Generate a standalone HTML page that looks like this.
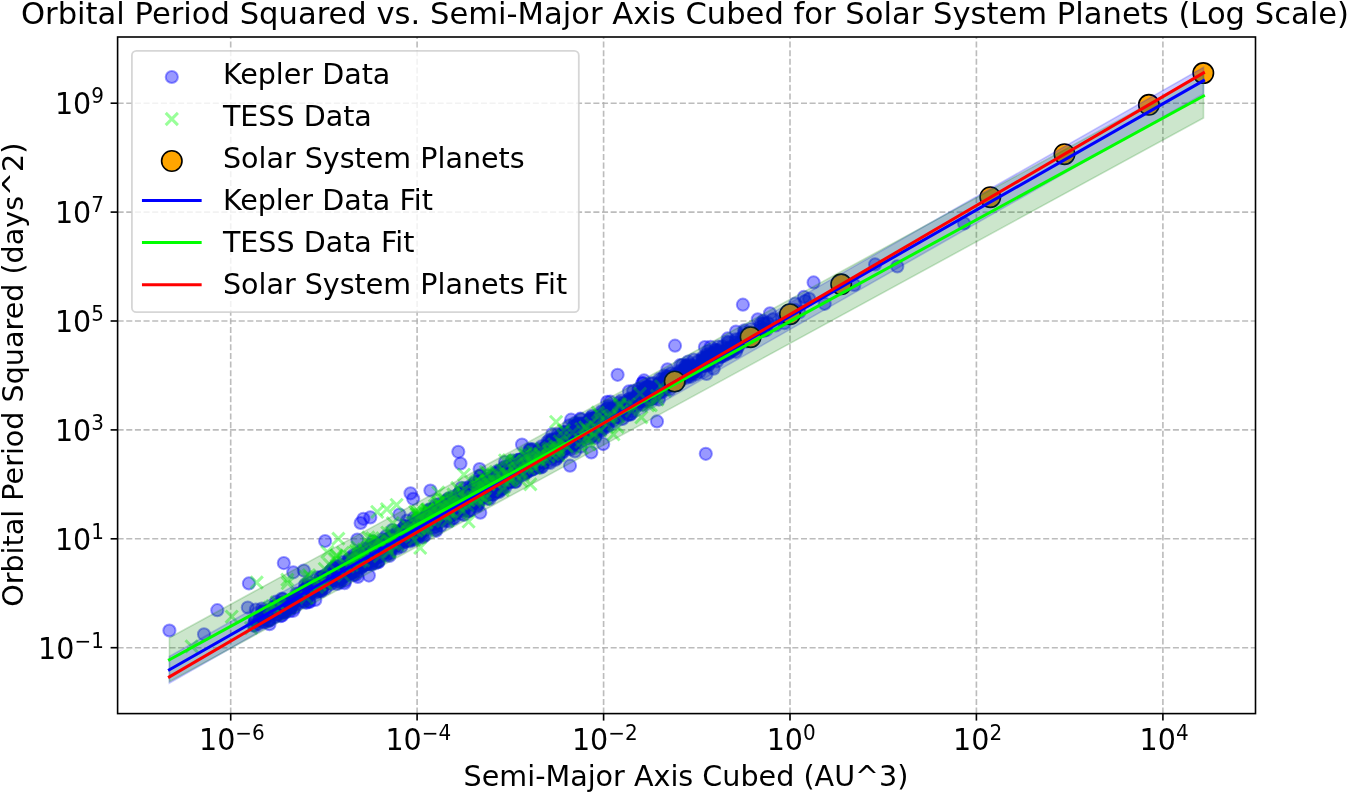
<!DOCTYPE html>
<html lang="en"><head><meta charset="utf-8">
<title>Orbital Period Squared vs. Semi-Major Axis Cubed</title>
<style>
html,body{margin:0;padding:0;background:#fff;}
body{width:1347px;height:794px;overflow:hidden;}
svg{display:block;}
text{font-family:"DejaVu Sans", "Liberation Sans", sans-serif;fill:#000;}
.g{stroke:#b0b0b0;stroke-opacity:0.85;stroke-width:1.63;stroke-dasharray:6.04 2.61;fill:none;}
.tk{stroke:#000;stroke-width:1.63;fill:none;}
</style></head><body>
<svg width="1347" height="794" viewBox="0 0 1347 794">
<rect x="0" y="0" width="1347" height="794" fill="#fff"/>
<defs>
<clipPath id="axclip"><rect x="117.6" y="37.0" width="1137.9" height="676.6"/></clipPath>
<g id="k"><circle r="6.1" fill="#0000ff" fill-opacity="0.4" stroke="#0000ff" stroke-opacity="0.4" stroke-width="2.0"/></g>
<path id="t" d="M-6.1,-6.1L6.1,6.1M-6.1,6.1L6.1,-6.1" stroke="#00ff00" stroke-opacity="0.4" stroke-width="3.0" fill="none"/>
<circle id="p" r="10.2" fill="#ffa500" stroke="#000" stroke-width="1.6"/>
</defs>
<g class="g">
<line x1="230.7" y1="713.6" x2="230.7" y2="37.0"/>
<line x1="417.1" y1="713.6" x2="417.1" y2="37.0"/>
<line x1="603.6" y1="713.6" x2="603.6" y2="37.0"/>
<line x1="790.0" y1="713.6" x2="790.0" y2="37.0"/>
<line x1="976.4" y1="713.6" x2="976.4" y2="37.0"/>
<line x1="1162.9" y1="713.6" x2="1162.9" y2="37.0"/>
<line x1="117.6" y1="647.7" x2="1255.5" y2="647.7"/>
<line x1="117.6" y1="538.8" x2="1255.5" y2="538.8"/>
<line x1="117.6" y1="429.9" x2="1255.5" y2="429.9"/>
<line x1="117.6" y1="321.0" x2="1255.5" y2="321.0"/>
<line x1="117.6" y1="212.1" x2="1255.5" y2="212.1"/>
<line x1="117.6" y1="103.2" x2="1255.5" y2="103.2"/>
</g>
<g clip-path="url(#axclip)">
<g>
<use href="#k" x="455.8" y="505.8"/>
<use href="#k" x="514.1" y="466.2"/>
<use href="#k" x="418.9" y="529.7"/>
<use href="#k" x="407.5" y="532.7"/>
<use href="#k" x="557.0" y="450.7"/>
<use href="#k" x="404.2" y="534.6"/>
<use href="#k" x="368.3" y="555.4"/>
<use href="#k" x="518.6" y="467.6"/>
<use href="#k" x="587.5" y="427.7"/>
<use href="#k" x="404.9" y="535.4"/>
<use href="#k" x="455.5" y="501.9"/>
<use href="#k" x="456.3" y="506.1"/>
<use href="#k" x="309.5" y="602.1"/>
<use href="#k" x="658.3" y="386.9"/>
<use href="#k" x="742.9" y="340.3"/>
<use href="#k" x="605.8" y="410.2"/>
<use href="#k" x="492.8" y="486.2"/>
<use href="#k" x="264.3" y="621.9"/>
<use href="#k" x="304.3" y="590.1"/>
<use href="#k" x="485.3" y="495.8"/>
<use href="#k" x="415.8" y="519.6"/>
<use href="#k" x="499.4" y="475.3"/>
<use href="#k" x="526.1" y="460.7"/>
<use href="#k" x="516.9" y="461.7"/>
<use href="#k" x="530.1" y="469.4"/>
<use href="#k" x="436.8" y="519.7"/>
<use href="#k" x="487.8" y="498.6"/>
<use href="#k" x="447.2" y="512.8"/>
<use href="#k" x="537.2" y="453.8"/>
<use href="#k" x="453.6" y="505.9"/>
<use href="#k" x="502.7" y="477.1"/>
<use href="#k" x="424.8" y="535.4"/>
<use href="#k" x="461.2" y="504.7"/>
<use href="#k" x="278.0" y="603.9"/>
<use href="#k" x="598.0" y="423.1"/>
<use href="#k" x="338.7" y="580.9"/>
<use href="#k" x="530.8" y="457.1"/>
<use href="#k" x="610.3" y="401.7"/>
<use href="#k" x="605.5" y="421.6"/>
<use href="#k" x="657.8" y="386.1"/>
<use href="#k" x="330.9" y="581.4"/>
<use href="#k" x="503.3" y="481.9"/>
<use href="#k" x="453.0" y="509.5"/>
<use href="#k" x="551.2" y="441.7"/>
<use href="#k" x="437.8" y="516.4"/>
<use href="#k" x="470.2" y="493.0"/>
<use href="#k" x="471.8" y="487.3"/>
<use href="#k" x="341.3" y="577.8"/>
<use href="#k" x="547.3" y="442.1"/>
<use href="#k" x="583.1" y="437.5"/>
<use href="#k" x="436.5" y="517.2"/>
<use href="#k" x="705.9" y="365.7"/>
<use href="#k" x="487.6" y="483.5"/>
<use href="#k" x="514.2" y="467.7"/>
<use href="#k" x="344.3" y="571.2"/>
<use href="#k" x="588.7" y="425.8"/>
<use href="#k" x="374.8" y="558.4"/>
<use href="#k" x="522.7" y="468.9"/>
<use href="#k" x="620.8" y="410.6"/>
<use href="#k" x="529.1" y="466.7"/>
<use href="#k" x="406.4" y="532.9"/>
<use href="#k" x="607.9" y="413.6"/>
<use href="#k" x="309.3" y="592.3"/>
<use href="#k" x="384.9" y="542.9"/>
<use href="#k" x="518.5" y="460.1"/>
<use href="#k" x="454.3" y="504.8"/>
<use href="#k" x="438.7" y="509.6"/>
<use href="#k" x="600.7" y="431.4"/>
<use href="#k" x="511.9" y="469.8"/>
<use href="#k" x="362.7" y="556.5"/>
<use href="#k" x="498.3" y="479.8"/>
<use href="#k" x="338.8" y="574.1"/>
<use href="#k" x="497.9" y="472.4"/>
<use href="#k" x="684.2" y="370.0"/>
<use href="#k" x="325.8" y="582.8"/>
<use href="#k" x="458.4" y="500.8"/>
<use href="#k" x="425.5" y="520.7"/>
<use href="#k" x="513.9" y="463.1"/>
<use href="#k" x="671.0" y="379.2"/>
<use href="#k" x="556.6" y="448.7"/>
<use href="#k" x="477.0" y="491.1"/>
<use href="#k" x="487.6" y="489.1"/>
<use href="#k" x="504.4" y="472.5"/>
<use href="#k" x="452.9" y="507.5"/>
<use href="#k" x="574.4" y="441.1"/>
<use href="#k" x="497.0" y="475.5"/>
<use href="#k" x="456.0" y="506.8"/>
<use href="#k" x="522.8" y="468.0"/>
<use href="#k" x="510.5" y="481.1"/>
<use href="#k" x="269.5" y="624.2"/>
<use href="#k" x="421.8" y="535.4"/>
<use href="#k" x="588.1" y="432.5"/>
<use href="#k" x="309.8" y="588.6"/>
<use href="#k" x="351.6" y="570.2"/>
<use href="#k" x="481.5" y="486.7"/>
<use href="#k" x="319.8" y="583.8"/>
<use href="#k" x="483.6" y="485.3"/>
<use href="#k" x="448.0" y="510.7"/>
<use href="#k" x="349.1" y="559.6"/>
<use href="#k" x="341.8" y="580.0"/>
<use href="#k" x="458.4" y="503.0"/>
<use href="#k" x="435.4" y="517.7"/>
<use href="#k" x="390.1" y="552.7"/>
<use href="#k" x="574.7" y="441.7"/>
<use href="#k" x="522.0" y="467.4"/>
<use href="#k" x="519.5" y="467.0"/>
<use href="#k" x="595.2" y="437.7"/>
<use href="#k" x="441.0" y="517.7"/>
<use href="#k" x="581.2" y="436.5"/>
<use href="#k" x="545.6" y="454.1"/>
<use href="#k" x="503.1" y="487.9"/>
<use href="#k" x="550.3" y="457.0"/>
<use href="#k" x="730.5" y="346.5"/>
<use href="#k" x="588.2" y="423.4"/>
<use href="#k" x="619.1" y="406.7"/>
<use href="#k" x="570.7" y="446.9"/>
<use href="#k" x="481.5" y="489.4"/>
<use href="#k" x="538.3" y="467.3"/>
<use href="#k" x="486.7" y="479.0"/>
<use href="#k" x="534.9" y="462.2"/>
<use href="#k" x="487.1" y="493.0"/>
<use href="#k" x="406.6" y="527.4"/>
<use href="#k" x="315.8" y="584.6"/>
<use href="#k" x="638.5" y="388.9"/>
<use href="#k" x="492.1" y="485.0"/>
<use href="#k" x="686.2" y="366.1"/>
<use href="#k" x="391.6" y="547.1"/>
<use href="#k" x="422.2" y="520.3"/>
<use href="#k" x="536.7" y="460.8"/>
<use href="#k" x="420.8" y="532.4"/>
<use href="#k" x="558.2" y="454.3"/>
<use href="#k" x="581.3" y="430.9"/>
<use href="#k" x="322.2" y="580.7"/>
<use href="#k" x="518.1" y="460.1"/>
<use href="#k" x="287.4" y="602.8"/>
<use href="#k" x="739.6" y="343.5"/>
<use href="#k" x="612.2" y="408.6"/>
<use href="#k" x="518.3" y="477.1"/>
<use href="#k" x="584.0" y="431.7"/>
<use href="#k" x="501.9" y="486.3"/>
<use href="#k" x="469.9" y="499.8"/>
<use href="#k" x="493.8" y="478.3"/>
<use href="#k" x="450.5" y="508.2"/>
<use href="#k" x="283.0" y="602.7"/>
<use href="#k" x="492.4" y="478.3"/>
<use href="#k" x="579.1" y="439.7"/>
<use href="#k" x="437.2" y="520.5"/>
<use href="#k" x="498.5" y="486.4"/>
<use href="#k" x="421.8" y="520.6"/>
<use href="#k" x="357.6" y="556.8"/>
<use href="#k" x="525.4" y="456.6"/>
<use href="#k" x="605.6" y="417.8"/>
<use href="#k" x="306.0" y="591.2"/>
<use href="#k" x="646.0" y="393.5"/>
<use href="#k" x="528.6" y="460.6"/>
<use href="#k" x="311.8" y="593.4"/>
<use href="#k" x="446.5" y="500.4"/>
<use href="#k" x="459.7" y="508.2"/>
<use href="#k" x="372.0" y="557.5"/>
<use href="#k" x="565.5" y="444.6"/>
<use href="#k" x="352.0" y="560.1"/>
<use href="#k" x="490.2" y="494.0"/>
<use href="#k" x="470.5" y="493.2"/>
<use href="#k" x="537.7" y="457.5"/>
<use href="#k" x="360.2" y="551.6"/>
<use href="#k" x="394.5" y="544.5"/>
<use href="#k" x="400.1" y="535.0"/>
<use href="#k" x="553.7" y="449.0"/>
<use href="#k" x="367.3" y="554.3"/>
<use href="#k" x="404.4" y="540.0"/>
<use href="#k" x="597.9" y="430.9"/>
<use href="#k" x="346.3" y="575.5"/>
<use href="#k" x="368.0" y="558.0"/>
<use href="#k" x="411.3" y="530.9"/>
<use href="#k" x="475.2" y="494.1"/>
<use href="#k" x="386.7" y="549.8"/>
<use href="#k" x="458.0" y="497.3"/>
<use href="#k" x="463.1" y="504.9"/>
<use href="#k" x="333.2" y="580.7"/>
<use href="#k" x="401.4" y="540.2"/>
<use href="#k" x="512.4" y="481.6"/>
<use href="#k" x="521.7" y="462.3"/>
<use href="#k" x="292.6" y="601.1"/>
<use href="#k" x="411.6" y="538.4"/>
<use href="#k" x="536.2" y="463.8"/>
<use href="#k" x="470.8" y="488.9"/>
<use href="#k" x="382.5" y="539.3"/>
<use href="#k" x="283.4" y="610.0"/>
<use href="#k" x="454.3" y="505.8"/>
<use href="#k" x="492.0" y="489.1"/>
<use href="#k" x="555.1" y="444.1"/>
<use href="#k" x="404.5" y="542.0"/>
<use href="#k" x="572.2" y="433.7"/>
<use href="#k" x="350.4" y="569.7"/>
<use href="#k" x="529.0" y="460.8"/>
<use href="#k" x="693.7" y="369.6"/>
<use href="#k" x="454.0" y="518.2"/>
<use href="#k" x="371.7" y="556.0"/>
<use href="#k" x="389.2" y="553.8"/>
<use href="#k" x="426.9" y="523.3"/>
<use href="#k" x="493.8" y="476.9"/>
<use href="#k" x="575.0" y="451.4"/>
<use href="#k" x="514.1" y="467.4"/>
<use href="#k" x="347.3" y="567.0"/>
<use href="#k" x="472.7" y="495.3"/>
<use href="#k" x="280.8" y="616.1"/>
<use href="#k" x="499.3" y="470.7"/>
<use href="#k" x="682.0" y="372.6"/>
<use href="#k" x="536.4" y="459.8"/>
<use href="#k" x="567.3" y="443.5"/>
<use href="#k" x="499.4" y="471.7"/>
<use href="#k" x="495.0" y="479.1"/>
<use href="#k" x="448.4" y="512.9"/>
<use href="#k" x="480.0" y="493.9"/>
<use href="#k" x="433.2" y="516.0"/>
<use href="#k" x="336.1" y="566.2"/>
<use href="#k" x="311.0" y="589.8"/>
<use href="#k" x="649.0" y="387.6"/>
<use href="#k" x="457.9" y="501.0"/>
<use href="#k" x="515.0" y="482.1"/>
<use href="#k" x="623.5" y="405.6"/>
<use href="#k" x="415.8" y="530.1"/>
<use href="#k" x="400.6" y="534.4"/>
<use href="#k" x="339.8" y="575.2"/>
<use href="#k" x="356.5" y="571.7"/>
<use href="#k" x="419.1" y="524.5"/>
<use href="#k" x="488.3" y="486.0"/>
<use href="#k" x="531.2" y="449.4"/>
<use href="#k" x="442.4" y="512.9"/>
<use href="#k" x="306.5" y="589.1"/>
<use href="#k" x="511.2" y="475.9"/>
<use href="#k" x="308.2" y="588.4"/>
<use href="#k" x="344.1" y="572.9"/>
<use href="#k" x="321.6" y="583.6"/>
<use href="#k" x="580.8" y="430.4"/>
<use href="#k" x="558.9" y="453.0"/>
<use href="#k" x="362.0" y="556.5"/>
<use href="#k" x="387.5" y="543.2"/>
<use href="#k" x="475.0" y="485.8"/>
<use href="#k" x="494.4" y="478.2"/>
<use href="#k" x="580.6" y="446.7"/>
<use href="#k" x="468.9" y="510.8"/>
<use href="#k" x="599.3" y="425.1"/>
<use href="#k" x="267.8" y="615.9"/>
<use href="#k" x="395.9" y="545.7"/>
<use href="#k" x="591.6" y="427.7"/>
<use href="#k" x="422.9" y="537.3"/>
<use href="#k" x="495.2" y="486.4"/>
<use href="#k" x="422.0" y="527.4"/>
<use href="#k" x="384.8" y="547.7"/>
<use href="#k" x="454.4" y="503.0"/>
<use href="#k" x="418.3" y="526.7"/>
<use href="#k" x="450.5" y="507.0"/>
<use href="#k" x="427.9" y="520.0"/>
<use href="#k" x="485.2" y="485.3"/>
<use href="#k" x="514.7" y="467.3"/>
<use href="#k" x="584.3" y="425.5"/>
<use href="#k" x="332.9" y="567.9"/>
<use href="#k" x="436.8" y="514.1"/>
<use href="#k" x="504.1" y="474.5"/>
<use href="#k" x="370.7" y="560.2"/>
<use href="#k" x="424.4" y="528.7"/>
<use href="#k" x="479.2" y="498.7"/>
<use href="#k" x="437.1" y="518.7"/>
<use href="#k" x="371.2" y="553.7"/>
<use href="#k" x="441.2" y="514.8"/>
<use href="#k" x="521.5" y="462.0"/>
<use href="#k" x="528.4" y="453.9"/>
<use href="#k" x="410.9" y="532.1"/>
<use href="#k" x="560.7" y="447.1"/>
<use href="#k" x="479.0" y="481.7"/>
<use href="#k" x="637.0" y="402.8"/>
<use href="#k" x="579.0" y="441.9"/>
<use href="#k" x="482.3" y="484.7"/>
<use href="#k" x="519.2" y="464.1"/>
<use href="#k" x="528.6" y="459.1"/>
<use href="#k" x="510.1" y="469.9"/>
<use href="#k" x="561.6" y="440.0"/>
<use href="#k" x="666.3" y="384.4"/>
<use href="#k" x="329.8" y="580.9"/>
<use href="#k" x="352.8" y="558.5"/>
<use href="#k" x="348.0" y="568.4"/>
<use href="#k" x="492.8" y="485.0"/>
<use href="#k" x="503.8" y="480.3"/>
<use href="#k" x="608.6" y="413.6"/>
<use href="#k" x="569.2" y="440.0"/>
<use href="#k" x="284.4" y="610.2"/>
<use href="#k" x="346.3" y="573.3"/>
<use href="#k" x="461.0" y="507.5"/>
<use href="#k" x="646.3" y="400.4"/>
<use href="#k" x="284.0" y="606.1"/>
<use href="#k" x="425.4" y="522.4"/>
<use href="#k" x="458.1" y="509.2"/>
<use href="#k" x="491.9" y="478.3"/>
<use href="#k" x="670.5" y="379.1"/>
<use href="#k" x="418.5" y="521.5"/>
<use href="#k" x="433.0" y="514.4"/>
<use href="#k" x="652.0" y="399.1"/>
<use href="#k" x="542.9" y="453.1"/>
<use href="#k" x="320.7" y="577.8"/>
<use href="#k" x="547.4" y="451.7"/>
<use href="#k" x="577.2" y="429.4"/>
<use href="#k" x="662.5" y="388.4"/>
<use href="#k" x="453.9" y="511.9"/>
<use href="#k" x="486.4" y="484.5"/>
<use href="#k" x="357.5" y="564.2"/>
<use href="#k" x="384.5" y="540.9"/>
<use href="#k" x="564.9" y="448.1"/>
<use href="#k" x="417.3" y="525.7"/>
<use href="#k" x="640.9" y="399.7"/>
<use href="#k" x="635.7" y="400.7"/>
<use href="#k" x="540.8" y="467.6"/>
<use href="#k" x="426.7" y="526.9"/>
<use href="#k" x="549.4" y="439.8"/>
<use href="#k" x="687.0" y="367.1"/>
<use href="#k" x="552.9" y="448.4"/>
<use href="#k" x="397.6" y="537.9"/>
<use href="#k" x="581.4" y="423.6"/>
<use href="#k" x="480.5" y="475.5"/>
<use href="#k" x="392.3" y="530.1"/>
<use href="#k" x="409.2" y="533.5"/>
<use href="#k" x="440.8" y="510.6"/>
<use href="#k" x="403.3" y="538.6"/>
<use href="#k" x="505.8" y="483.1"/>
<use href="#k" x="596.1" y="420.4"/>
<use href="#k" x="578.2" y="439.6"/>
<use href="#k" x="454.2" y="503.3"/>
<use href="#k" x="382.4" y="544.6"/>
<use href="#k" x="549.8" y="447.0"/>
<use href="#k" x="489.6" y="480.4"/>
<use href="#k" x="356.0" y="574.8"/>
<use href="#k" x="671.0" y="385.7"/>
<use href="#k" x="462.5" y="495.8"/>
<use href="#k" x="638.7" y="391.1"/>
<use href="#k" x="464.2" y="501.3"/>
<use href="#k" x="278.8" y="607.9"/>
<use href="#k" x="602.3" y="425.1"/>
<use href="#k" x="607.5" y="408.7"/>
<use href="#k" x="455.6" y="504.4"/>
<use href="#k" x="349.9" y="573.8"/>
<use href="#k" x="471.8" y="498.2"/>
<use href="#k" x="306.6" y="587.8"/>
<use href="#k" x="655.6" y="389.6"/>
<use href="#k" x="442.2" y="513.9"/>
<use href="#k" x="366.5" y="548.3"/>
<use href="#k" x="323.0" y="582.5"/>
<use href="#k" x="554.6" y="450.4"/>
<use href="#k" x="296.5" y="593.5"/>
<use href="#k" x="372.0" y="563.5"/>
<use href="#k" x="345.6" y="567.0"/>
<use href="#k" x="523.8" y="474.7"/>
<use href="#k" x="548.3" y="456.0"/>
<use href="#k" x="645.0" y="387.5"/>
<use href="#k" x="540.9" y="453.8"/>
<use href="#k" x="576.7" y="430.6"/>
<use href="#k" x="595.4" y="435.8"/>
<use href="#k" x="764.4" y="324.4"/>
<use href="#k" x="418.3" y="530.4"/>
<use href="#k" x="631.7" y="398.8"/>
<use href="#k" x="635.9" y="396.3"/>
<use href="#k" x="655.2" y="389.0"/>
<use href="#k" x="580.7" y="419.4"/>
<use href="#k" x="580.4" y="418.7"/>
<use href="#k" x="621.2" y="400.6"/>
<use href="#k" x="426.9" y="527.2"/>
<use href="#k" x="476.4" y="493.1"/>
<use href="#k" x="487.6" y="484.7"/>
<use href="#k" x="551.8" y="452.7"/>
<use href="#k" x="525.8" y="467.0"/>
<use href="#k" x="408.4" y="528.4"/>
<use href="#k" x="650.9" y="393.0"/>
<use href="#k" x="518.8" y="471.3"/>
<use href="#k" x="378.4" y="561.7"/>
<use href="#k" x="506.0" y="473.9"/>
<use href="#k" x="482.1" y="487.3"/>
<use href="#k" x="510.3" y="471.1"/>
<use href="#k" x="360.4" y="559.5"/>
<use href="#k" x="366.9" y="548.9"/>
<use href="#k" x="375.5" y="555.2"/>
<use href="#k" x="428.4" y="524.8"/>
<use href="#k" x="496.8" y="471.4"/>
<use href="#k" x="461.2" y="508.1"/>
<use href="#k" x="322.3" y="579.9"/>
<use href="#k" x="341.4" y="569.9"/>
<use href="#k" x="374.2" y="548.5"/>
<use href="#k" x="283.3" y="610.8"/>
<use href="#k" x="326.3" y="580.5"/>
<use href="#k" x="430.2" y="517.8"/>
<use href="#k" x="581.9" y="430.3"/>
<use href="#k" x="541.6" y="446.3"/>
<use href="#k" x="624.3" y="406.0"/>
<use href="#k" x="737.7" y="347.8"/>
<use href="#k" x="474.8" y="492.3"/>
<use href="#k" x="280.3" y="610.0"/>
<use href="#k" x="474.3" y="501.8"/>
<use href="#k" x="533.9" y="464.7"/>
<use href="#k" x="534.8" y="458.2"/>
<use href="#k" x="522.4" y="461.3"/>
<use href="#k" x="557.1" y="440.7"/>
<use href="#k" x="420.0" y="530.7"/>
<use href="#k" x="513.1" y="471.4"/>
<use href="#k" x="460.9" y="501.2"/>
<use href="#k" x="466.9" y="501.5"/>
<use href="#k" x="412.7" y="528.6"/>
<use href="#k" x="459.4" y="493.2"/>
<use href="#k" x="410.2" y="540.1"/>
<use href="#k" x="366.2" y="558.8"/>
<use href="#k" x="461.1" y="502.9"/>
<use href="#k" x="435.8" y="529.5"/>
<use href="#k" x="438.3" y="508.5"/>
<use href="#k" x="464.8" y="497.5"/>
<use href="#k" x="502.2" y="476.0"/>
<use href="#k" x="476.5" y="498.2"/>
<use href="#k" x="426.0" y="518.2"/>
<use href="#k" x="367.6" y="561.4"/>
<use href="#k" x="474.6" y="482.3"/>
<use href="#k" x="522.8" y="461.6"/>
<use href="#k" x="518.4" y="469.4"/>
<use href="#k" x="612.8" y="421.2"/>
<use href="#k" x="636.8" y="405.9"/>
<use href="#k" x="645.2" y="395.8"/>
<use href="#k" x="472.8" y="504.3"/>
<use href="#k" x="480.8" y="481.3"/>
<use href="#k" x="491.0" y="485.2"/>
<use href="#k" x="284.4" y="612.5"/>
<use href="#k" x="382.4" y="549.6"/>
<use href="#k" x="260.5" y="620.5"/>
<use href="#k" x="485.7" y="490.9"/>
<use href="#k" x="575.3" y="432.2"/>
<use href="#k" x="376.9" y="553.5"/>
<use href="#k" x="478.0" y="505.0"/>
<use href="#k" x="498.5" y="475.6"/>
<use href="#k" x="429.6" y="509.3"/>
<use href="#k" x="630.0" y="414.7"/>
<use href="#k" x="588.5" y="430.9"/>
<use href="#k" x="399.3" y="538.0"/>
<use href="#k" x="560.3" y="451.7"/>
<use href="#k" x="628.9" y="401.4"/>
<use href="#k" x="278.0" y="606.5"/>
<use href="#k" x="400.3" y="541.6"/>
<use href="#k" x="516.3" y="470.0"/>
<use href="#k" x="447.8" y="505.3"/>
<use href="#k" x="448.9" y="508.3"/>
<use href="#k" x="570.8" y="434.8"/>
<use href="#k" x="431.9" y="525.0"/>
<use href="#k" x="658.3" y="388.4"/>
<use href="#k" x="361.4" y="561.1"/>
<use href="#k" x="622.4" y="419.0"/>
<use href="#k" x="386.6" y="539.4"/>
<use href="#k" x="527.1" y="457.0"/>
<use href="#k" x="609.8" y="414.4"/>
<use href="#k" x="467.0" y="493.1"/>
<use href="#k" x="263.1" y="614.6"/>
<use href="#k" x="476.5" y="491.8"/>
<use href="#k" x="541.0" y="460.7"/>
<use href="#k" x="311.6" y="588.5"/>
<use href="#k" x="563.3" y="447.2"/>
<use href="#k" x="558.3" y="455.8"/>
<use href="#k" x="441.0" y="516.1"/>
<use href="#k" x="452.2" y="518.8"/>
<use href="#k" x="355.4" y="565.6"/>
<use href="#k" x="414.1" y="539.7"/>
<use href="#k" x="461.6" y="494.8"/>
<use href="#k" x="339.8" y="582.4"/>
<use href="#k" x="387.3" y="543.2"/>
<use href="#k" x="488.7" y="486.6"/>
<use href="#k" x="441.4" y="509.5"/>
<use href="#k" x="536.4" y="461.9"/>
<use href="#k" x="253.4" y="625.1"/>
<use href="#k" x="410.4" y="532.6"/>
<use href="#k" x="551.6" y="440.6"/>
<use href="#k" x="399.9" y="534.1"/>
<use href="#k" x="533.8" y="468.7"/>
<use href="#k" x="529.8" y="450.5"/>
<use href="#k" x="276.7" y="614.7"/>
<use href="#k" x="475.8" y="487.6"/>
<use href="#k" x="515.7" y="481.4"/>
<use href="#k" x="526.8" y="472.4"/>
<use href="#k" x="513.9" y="468.6"/>
<use href="#k" x="581.7" y="434.2"/>
<use href="#k" x="403.8" y="532.0"/>
<use href="#k" x="463.5" y="495.1"/>
<use href="#k" x="378.0" y="550.1"/>
<use href="#k" x="425.3" y="518.3"/>
<use href="#k" x="344.6" y="583.2"/>
<use href="#k" x="595.3" y="430.9"/>
<use href="#k" x="305.4" y="594.6"/>
<use href="#k" x="338.1" y="577.2"/>
<use href="#k" x="436.1" y="516.4"/>
<use href="#k" x="623.6" y="411.6"/>
<use href="#k" x="532.7" y="459.5"/>
<use href="#k" x="380.8" y="549.3"/>
<use href="#k" x="548.7" y="448.4"/>
<use href="#k" x="269.7" y="620.3"/>
<use href="#k" x="410.1" y="541.4"/>
<use href="#k" x="540.8" y="453.4"/>
<use href="#k" x="614.3" y="410.1"/>
<use href="#k" x="409.0" y="532.1"/>
<use href="#k" x="324.1" y="582.2"/>
<use href="#k" x="471.0" y="492.4"/>
<use href="#k" x="435.2" y="517.0"/>
<use href="#k" x="494.5" y="482.5"/>
<use href="#k" x="401.1" y="536.8"/>
<use href="#k" x="451.9" y="513.4"/>
<use href="#k" x="468.3" y="502.8"/>
<use href="#k" x="421.3" y="531.5"/>
<use href="#k" x="545.9" y="451.1"/>
<use href="#k" x="485.9" y="489.3"/>
<use href="#k" x="643.5" y="391.1"/>
<use href="#k" x="501.7" y="475.1"/>
<use href="#k" x="309.9" y="593.4"/>
<use href="#k" x="286.9" y="602.3"/>
<use href="#k" x="555.2" y="459.9"/>
<use href="#k" x="337.5" y="571.2"/>
<use href="#k" x="363.3" y="557.1"/>
<use href="#k" x="538.6" y="456.9"/>
<use href="#k" x="422.8" y="525.1"/>
<use href="#k" x="408.3" y="531.6"/>
<use href="#k" x="423.2" y="519.8"/>
<use href="#k" x="420.8" y="522.6"/>
<use href="#k" x="590.5" y="433.6"/>
<use href="#k" x="506.2" y="471.8"/>
<use href="#k" x="695.6" y="369.5"/>
<use href="#k" x="474.0" y="484.0"/>
<use href="#k" x="500.2" y="472.8"/>
<use href="#k" x="669.0" y="378.9"/>
<use href="#k" x="479.9" y="476.0"/>
<use href="#k" x="594.3" y="420.2"/>
<use href="#k" x="614.0" y="416.4"/>
<use href="#k" x="448.8" y="509.6"/>
<use href="#k" x="386.3" y="555.1"/>
<use href="#k" x="282.1" y="598.6"/>
<use href="#k" x="472.7" y="491.4"/>
<use href="#k" x="461.8" y="500.0"/>
<use href="#k" x="535.4" y="454.5"/>
<use href="#k" x="505.4" y="475.8"/>
<use href="#k" x="467.5" y="495.7"/>
<use href="#k" x="608.3" y="407.8"/>
<use href="#k" x="322.4" y="583.1"/>
<use href="#k" x="490.6" y="490.9"/>
<use href="#k" x="538.6" y="461.7"/>
<use href="#k" x="575.6" y="442.3"/>
<use href="#k" x="362.3" y="560.7"/>
<use href="#k" x="308.9" y="601.5"/>
<use href="#k" x="773.1" y="319.3"/>
<use href="#k" x="439.1" y="517.0"/>
<use href="#k" x="588.9" y="438.6"/>
<use href="#k" x="431.6" y="522.1"/>
<use href="#k" x="548.6" y="449.5"/>
<use href="#k" x="359.6" y="560.2"/>
<use href="#k" x="541.7" y="459.4"/>
<use href="#k" x="504.4" y="469.0"/>
<use href="#k" x="483.0" y="488.5"/>
<use href="#k" x="565.3" y="445.5"/>
<use href="#k" x="395.7" y="536.7"/>
<use href="#k" x="435.7" y="526.9"/>
<use href="#k" x="570.2" y="431.0"/>
<use href="#k" x="597.2" y="430.8"/>
<use href="#k" x="323.8" y="577.7"/>
<use href="#k" x="456.6" y="497.4"/>
<use href="#k" x="306.1" y="599.3"/>
<use href="#k" x="722.4" y="346.3"/>
<use href="#k" x="443.8" y="516.1"/>
<use href="#k" x="531.3" y="469.9"/>
<use href="#k" x="552.9" y="447.3"/>
<use href="#k" x="332.9" y="579.6"/>
<use href="#k" x="344.5" y="574.3"/>
<use href="#k" x="364.7" y="564.0"/>
<use href="#k" x="663.6" y="383.8"/>
<use href="#k" x="587.0" y="427.3"/>
<use href="#k" x="515.6" y="473.6"/>
<use href="#k" x="492.9" y="494.4"/>
<use href="#k" x="494.8" y="490.5"/>
<use href="#k" x="577.9" y="431.1"/>
<use href="#k" x="489.5" y="498.9"/>
<use href="#k" x="512.8" y="471.5"/>
<use href="#k" x="607.1" y="401.9"/>
<use href="#k" x="438.9" y="520.3"/>
<use href="#k" x="498.8" y="484.2"/>
<use href="#k" x="485.2" y="481.2"/>
<use href="#k" x="430.1" y="525.1"/>
<use href="#k" x="795.3" y="303.5"/>
<use href="#k" x="431.6" y="523.4"/>
<use href="#k" x="445.6" y="521.1"/>
<use href="#k" x="533.2" y="457.5"/>
<use href="#k" x="551.8" y="452.4"/>
<use href="#k" x="577.7" y="423.3"/>
<use href="#k" x="584.2" y="428.4"/>
<use href="#k" x="503.9" y="477.5"/>
<use href="#k" x="508.7" y="468.4"/>
<use href="#k" x="514.9" y="475.1"/>
<use href="#k" x="677.1" y="385.0"/>
<use href="#k" x="346.6" y="572.4"/>
<use href="#k" x="513.3" y="478.9"/>
<use href="#k" x="463.7" y="515.0"/>
<use href="#k" x="591.3" y="418.8"/>
<use href="#k" x="298.7" y="593.9"/>
<use href="#k" x="563.9" y="445.1"/>
<use href="#k" x="619.4" y="402.7"/>
<use href="#k" x="424.6" y="528.5"/>
<use href="#k" x="473.0" y="495.5"/>
<use href="#k" x="539.9" y="454.6"/>
<use href="#k" x="492.7" y="479.8"/>
<use href="#k" x="331.5" y="580.2"/>
<use href="#k" x="507.2" y="479.9"/>
<use href="#k" x="476.4" y="493.6"/>
<use href="#k" x="321.3" y="591.3"/>
<use href="#k" x="492.9" y="490.2"/>
<use href="#k" x="361.5" y="564.8"/>
<use href="#k" x="478.0" y="494.2"/>
<use href="#k" x="315.3" y="599.9"/>
<use href="#k" x="359.6" y="559.5"/>
<use href="#k" x="419.7" y="534.6"/>
<use href="#k" x="564.7" y="448.7"/>
<use href="#k" x="426.7" y="522.6"/>
<use href="#k" x="365.4" y="558.7"/>
<use href="#k" x="595.4" y="424.5"/>
<use href="#k" x="485.6" y="490.7"/>
<use href="#k" x="413.3" y="524.4"/>
<use href="#k" x="331.1" y="583.7"/>
<use href="#k" x="548.4" y="446.6"/>
<use href="#k" x="430.1" y="520.0"/>
<use href="#k" x="595.4" y="418.1"/>
<use href="#k" x="479.3" y="481.1"/>
<use href="#k" x="394.9" y="545.0"/>
<use href="#k" x="384.4" y="545.7"/>
<use href="#k" x="662.2" y="384.6"/>
<use href="#k" x="381.9" y="545.4"/>
<use href="#k" x="500.2" y="474.9"/>
<use href="#k" x="458.4" y="508.1"/>
<use href="#k" x="508.8" y="478.7"/>
<use href="#k" x="520.5" y="464.6"/>
<use href="#k" x="557.4" y="455.5"/>
<use href="#k" x="386.4" y="545.5"/>
<use href="#k" x="718.9" y="352.9"/>
<use href="#k" x="472.2" y="493.2"/>
<use href="#k" x="479.2" y="489.1"/>
<use href="#k" x="404.1" y="531.5"/>
<use href="#k" x="506.9" y="475.9"/>
<use href="#k" x="556.0" y="447.7"/>
<use href="#k" x="317.6" y="590.0"/>
<use href="#k" x="369.2" y="564.0"/>
<use href="#k" x="290.3" y="608.5"/>
<use href="#k" x="546.7" y="457.2"/>
<use href="#k" x="518.6" y="474.7"/>
<use href="#k" x="586.8" y="430.9"/>
<use href="#k" x="504.7" y="475.7"/>
<use href="#k" x="297.5" y="604.0"/>
<use href="#k" x="262.7" y="615.5"/>
<use href="#k" x="259.8" y="618.0"/>
<use href="#k" x="593.5" y="419.0"/>
<use href="#k" x="437.5" y="510.2"/>
<use href="#k" x="501.0" y="477.0"/>
<use href="#k" x="466.5" y="505.3"/>
<use href="#k" x="628.7" y="408.0"/>
<use href="#k" x="411.3" y="534.5"/>
<use href="#k" x="524.4" y="470.0"/>
<use href="#k" x="384.1" y="553.6"/>
<use href="#k" x="452.5" y="514.6"/>
<use href="#k" x="600.5" y="428.4"/>
<use href="#k" x="591.3" y="437.0"/>
<use href="#k" x="465.4" y="502.2"/>
<use href="#k" x="358.5" y="566.2"/>
<use href="#k" x="501.4" y="485.6"/>
<use href="#k" x="312.8" y="586.1"/>
<use href="#k" x="435.2" y="507.8"/>
<use href="#k" x="499.6" y="490.3"/>
<use href="#k" x="627.2" y="415.0"/>
<use href="#k" x="556.8" y="458.5"/>
<use href="#k" x="495.8" y="478.6"/>
<use href="#k" x="603.7" y="428.5"/>
<use href="#k" x="516.4" y="475.1"/>
<use href="#k" x="468.3" y="499.8"/>
<use href="#k" x="414.0" y="537.6"/>
<use href="#k" x="508.9" y="472.7"/>
<use href="#k" x="650.6" y="395.7"/>
<use href="#k" x="494.5" y="479.5"/>
<use href="#k" x="597.3" y="423.2"/>
<use href="#k" x="529.7" y="466.5"/>
<use href="#k" x="540.9" y="462.6"/>
<use href="#k" x="524.8" y="472.4"/>
<use href="#k" x="495.6" y="481.2"/>
<use href="#k" x="499.8" y="487.8"/>
<use href="#k" x="491.0" y="483.7"/>
<use href="#k" x="399.6" y="536.6"/>
<use href="#k" x="449.1" y="499.2"/>
<use href="#k" x="515.2" y="473.0"/>
<use href="#k" x="589.3" y="431.7"/>
<use href="#k" x="418.1" y="528.1"/>
<use href="#k" x="424.7" y="522.4"/>
<use href="#k" x="666.8" y="386.7"/>
<use href="#k" x="399.6" y="534.6"/>
<use href="#k" x="524.7" y="466.8"/>
<use href="#k" x="566.2" y="445.2"/>
<use href="#k" x="342.7" y="575.7"/>
<use href="#k" x="345.6" y="567.5"/>
<use href="#k" x="338.7" y="575.7"/>
<use href="#k" x="599.8" y="419.0"/>
<use href="#k" x="538.8" y="450.7"/>
<use href="#k" x="706.5" y="374.0"/>
<use href="#k" x="400.1" y="534.3"/>
<use href="#k" x="444.4" y="509.0"/>
<use href="#k" x="542.3" y="466.8"/>
<use href="#k" x="415.9" y="530.4"/>
<use href="#k" x="334.5" y="568.5"/>
<use href="#k" x="487.5" y="494.5"/>
<use href="#k" x="353.4" y="572.3"/>
<use href="#k" x="419.2" y="530.8"/>
<use href="#k" x="336.9" y="566.4"/>
<use href="#k" x="404.7" y="526.2"/>
<use href="#k" x="543.0" y="453.1"/>
<use href="#k" x="781.9" y="317.5"/>
<use href="#k" x="394.7" y="539.7"/>
<use href="#k" x="383.0" y="550.6"/>
<use href="#k" x="505.0" y="462.1"/>
<use href="#k" x="583.7" y="431.4"/>
<use href="#k" x="613.5" y="410.1"/>
<use href="#k" x="496.0" y="479.9"/>
<use href="#k" x="377.8" y="561.0"/>
<use href="#k" x="532.9" y="460.1"/>
<use href="#k" x="434.5" y="513.5"/>
<use href="#k" x="499.7" y="476.4"/>
<use href="#k" x="387.0" y="545.5"/>
<use href="#k" x="436.6" y="523.2"/>
<use href="#k" x="379.2" y="543.0"/>
<use href="#k" x="596.6" y="423.0"/>
<use href="#k" x="370.5" y="561.9"/>
<use href="#k" x="557.8" y="434.1"/>
<use href="#k" x="575.6" y="442.4"/>
<use href="#k" x="645.4" y="398.0"/>
<use href="#k" x="405.2" y="535.0"/>
<use href="#k" x="628.6" y="403.6"/>
<use href="#k" x="599.7" y="415.4"/>
<use href="#k" x="446.6" y="514.1"/>
<use href="#k" x="536.0" y="462.4"/>
<use href="#k" x="278.9" y="614.5"/>
<use href="#k" x="575.2" y="442.0"/>
<use href="#k" x="361.5" y="567.6"/>
<use href="#k" x="432.6" y="513.8"/>
<use href="#k" x="493.0" y="475.3"/>
<use href="#k" x="385.0" y="550.1"/>
<use href="#k" x="466.9" y="493.0"/>
<use href="#k" x="686.8" y="370.2"/>
<use href="#k" x="379.1" y="548.9"/>
<use href="#k" x="454.1" y="507.4"/>
<use href="#k" x="496.1" y="483.6"/>
<use href="#k" x="418.7" y="524.1"/>
<use href="#k" x="543.8" y="452.7"/>
<use href="#k" x="427.7" y="525.2"/>
<use href="#k" x="474.0" y="489.4"/>
<use href="#k" x="425.4" y="527.1"/>
<use href="#k" x="513.4" y="470.4"/>
<use href="#k" x="654.5" y="390.1"/>
<use href="#k" x="447.5" y="511.7"/>
<use href="#k" x="423.0" y="520.4"/>
<use href="#k" x="541.1" y="458.1"/>
<use href="#k" x="480.2" y="490.5"/>
<use href="#k" x="294.7" y="602.6"/>
<use href="#k" x="544.3" y="449.7"/>
<use href="#k" x="376.9" y="545.7"/>
<use href="#k" x="497.6" y="491.4"/>
<use href="#k" x="599.6" y="417.1"/>
<use href="#k" x="488.4" y="481.1"/>
<use href="#k" x="527.7" y="458.2"/>
<use href="#k" x="420.6" y="532.4"/>
<use href="#k" x="371.5" y="551.4"/>
<use href="#k" x="564.8" y="432.2"/>
<use href="#k" x="432.0" y="515.2"/>
<use href="#k" x="536.6" y="463.2"/>
<use href="#k" x="457.7" y="512.0"/>
<use href="#k" x="637.9" y="397.8"/>
<use href="#k" x="376.1" y="555.1"/>
<use href="#k" x="307.9" y="586.0"/>
<use href="#k" x="511.5" y="480.1"/>
<use href="#k" x="425.6" y="527.6"/>
<use href="#k" x="545.1" y="447.3"/>
<use href="#k" x="744.1" y="335.2"/>
<use href="#k" x="514.6" y="471.8"/>
<use href="#k" x="275.1" y="617.1"/>
<use href="#k" x="553.3" y="455.8"/>
<use href="#k" x="408.8" y="531.1"/>
<use href="#k" x="733.1" y="350.6"/>
<use href="#k" x="522.8" y="468.5"/>
<use href="#k" x="608.5" y="405.9"/>
<use href="#k" x="608.1" y="423.3"/>
<use href="#k" x="526.8" y="462.8"/>
<use href="#k" x="523.7" y="470.6"/>
<use href="#k" x="332.1" y="574.4"/>
<use href="#k" x="583.8" y="428.6"/>
<use href="#k" x="483.1" y="488.5"/>
<use href="#k" x="496.5" y="491.5"/>
<use href="#k" x="600.6" y="422.2"/>
<use href="#k" x="375.4" y="563.3"/>
<use href="#k" x="496.3" y="485.9"/>
<use href="#k" x="505.5" y="480.9"/>
<use href="#k" x="347.7" y="561.0"/>
<use href="#k" x="545.3" y="460.0"/>
<use href="#k" x="395.8" y="542.5"/>
<use href="#k" x="449.4" y="500.6"/>
<use href="#k" x="448.6" y="513.3"/>
<use href="#k" x="362.5" y="557.6"/>
<use href="#k" x="401.2" y="536.7"/>
<use href="#k" x="320.0" y="591.1"/>
<use href="#k" x="461.1" y="506.0"/>
<use href="#k" x="661.0" y="383.7"/>
<use href="#k" x="488.5" y="493.4"/>
<use href="#k" x="438.5" y="517.4"/>
<use href="#k" x="537.1" y="457.1"/>
<use href="#k" x="733.0" y="346.2"/>
<use href="#k" x="441.7" y="512.2"/>
<use href="#k" x="372.3" y="546.9"/>
<use href="#k" x="542.5" y="452.9"/>
<use href="#k" x="562.1" y="453.3"/>
<use href="#k" x="384.7" y="551.4"/>
<use href="#k" x="304.5" y="601.9"/>
<use href="#k" x="421.8" y="525.4"/>
<use href="#k" x="374.6" y="549.9"/>
<use href="#k" x="304.8" y="590.2"/>
<use href="#k" x="528.3" y="469.0"/>
<use href="#k" x="287.1" y="602.3"/>
<use href="#k" x="386.1" y="546.1"/>
<use href="#k" x="601.7" y="419.8"/>
<use href="#k" x="632.4" y="411.3"/>
<use href="#k" x="282.2" y="615.6"/>
<use href="#k" x="661.2" y="388.5"/>
<use href="#k" x="392.0" y="535.7"/>
<use href="#k" x="602.6" y="421.7"/>
<use href="#k" x="373.0" y="554.1"/>
<use href="#k" x="604.6" y="423.5"/>
<use href="#k" x="719.5" y="353.9"/>
<use href="#k" x="583.9" y="428.8"/>
<use href="#k" x="418.2" y="528.9"/>
<use href="#k" x="510.1" y="479.9"/>
<use href="#k" x="305.1" y="596.5"/>
<use href="#k" x="533.3" y="458.6"/>
<use href="#k" x="436.1" y="520.2"/>
<use href="#k" x="497.7" y="481.5"/>
<use href="#k" x="384.3" y="547.5"/>
<use href="#k" x="401.3" y="532.4"/>
<use href="#k" x="341.4" y="570.8"/>
<use href="#k" x="415.4" y="525.4"/>
<use href="#k" x="488.9" y="483.3"/>
<use href="#k" x="562.6" y="446.2"/>
<use href="#k" x="430.2" y="513.3"/>
<use href="#k" x="592.4" y="435.5"/>
<use href="#k" x="565.6" y="448.4"/>
<use href="#k" x="380.1" y="555.1"/>
<use href="#k" x="412.6" y="533.9"/>
<use href="#k" x="343.7" y="571.7"/>
<use href="#k" x="639.6" y="396.0"/>
<use href="#k" x="354.6" y="565.0"/>
<use href="#k" x="406.9" y="520.7"/>
<use href="#k" x="341.6" y="572.5"/>
<use href="#k" x="436.8" y="516.5"/>
<use href="#k" x="552.5" y="439.3"/>
<use href="#k" x="346.2" y="564.4"/>
<use href="#k" x="514.1" y="464.6"/>
<use href="#k" x="393.2" y="540.7"/>
<use href="#k" x="313.8" y="586.0"/>
<use href="#k" x="400.0" y="537.0"/>
<use href="#k" x="464.2" y="502.1"/>
<use href="#k" x="337.4" y="578.3"/>
<use href="#k" x="366.3" y="564.2"/>
<use href="#k" x="373.3" y="557.9"/>
<use href="#k" x="512.4" y="479.6"/>
<use href="#k" x="486.9" y="491.5"/>
<use href="#k" x="322.3" y="586.8"/>
<use href="#k" x="387.7" y="545.2"/>
<use href="#k" x="308.2" y="588.4"/>
<use href="#k" x="483.6" y="492.2"/>
<use href="#k" x="540.9" y="450.9"/>
<use href="#k" x="346.6" y="567.6"/>
<use href="#k" x="370.4" y="555.5"/>
<use href="#k" x="573.5" y="444.6"/>
<use href="#k" x="353.5" y="555.0"/>
<use href="#k" x="463.3" y="503.5"/>
<use href="#k" x="554.2" y="448.4"/>
<use href="#k" x="350.5" y="557.7"/>
<use href="#k" x="377.1" y="552.2"/>
<use href="#k" x="511.3" y="481.5"/>
<use href="#k" x="487.5" y="491.2"/>
<use href="#k" x="441.5" y="508.1"/>
<use href="#k" x="465.9" y="488.2"/>
<use href="#k" x="478.9" y="498.2"/>
<use href="#k" x="369.8" y="545.2"/>
<use href="#k" x="512.7" y="466.7"/>
<use href="#k" x="504.0" y="467.7"/>
<use href="#k" x="493.1" y="484.4"/>
<use href="#k" x="659.3" y="386.2"/>
<use href="#k" x="498.8" y="475.7"/>
<use href="#k" x="744.3" y="332.4"/>
<use href="#k" x="766.4" y="329.9"/>
<use href="#k" x="666.3" y="376.4"/>
<use href="#k" x="641.3" y="398.4"/>
<use href="#k" x="550.1" y="462.9"/>
<use href="#k" x="463.7" y="502.8"/>
<use href="#k" x="319.3" y="581.4"/>
<use href="#k" x="354.1" y="564.3"/>
<use href="#k" x="637.8" y="404.2"/>
<use href="#k" x="621.1" y="409.9"/>
<use href="#k" x="573.7" y="440.5"/>
<use href="#k" x="394.8" y="539.5"/>
<use href="#k" x="472.5" y="490.8"/>
<use href="#k" x="546.5" y="447.2"/>
<use href="#k" x="421.4" y="520.5"/>
<use href="#k" x="448.4" y="512.0"/>
<use href="#k" x="441.4" y="512.7"/>
<use href="#k" x="354.9" y="566.0"/>
<use href="#k" x="447.1" y="514.7"/>
<use href="#k" x="489.2" y="487.2"/>
<use href="#k" x="375.2" y="546.9"/>
<use href="#k" x="379.0" y="549.5"/>
<use href="#k" x="311.3" y="592.5"/>
<use href="#k" x="494.7" y="483.6"/>
<use href="#k" x="382.9" y="546.8"/>
<use href="#k" x="454.1" y="502.2"/>
<use href="#k" x="423.7" y="525.2"/>
<use href="#k" x="475.2" y="494.5"/>
<use href="#k" x="608.2" y="416.8"/>
<use href="#k" x="441.3" y="509.0"/>
<use href="#k" x="465.2" y="492.5"/>
<use href="#k" x="358.5" y="566.1"/>
<use href="#k" x="513.8" y="477.6"/>
<use href="#k" x="345.5" y="573.6"/>
<use href="#k" x="593.9" y="422.5"/>
<use href="#k" x="520.3" y="460.8"/>
<use href="#k" x="548.5" y="443.5"/>
<use href="#k" x="271.2" y="610.6"/>
<use href="#k" x="809.2" y="298.8"/>
<use href="#k" x="592.7" y="420.1"/>
<use href="#k" x="546.7" y="447.8"/>
<use href="#k" x="295.3" y="600.0"/>
<use href="#k" x="480.2" y="487.8"/>
<use href="#k" x="552.3" y="434.1"/>
<use href="#k" x="562.3" y="441.5"/>
<use href="#k" x="548.4" y="445.6"/>
<use href="#k" x="513.4" y="464.8"/>
<use href="#k" x="544.0" y="461.5"/>
<use href="#k" x="596.2" y="416.5"/>
<use href="#k" x="327.1" y="578.0"/>
<use href="#k" x="496.1" y="481.0"/>
<use href="#k" x="613.2" y="407.5"/>
<use href="#k" x="537.5" y="461.0"/>
<use href="#k" x="458.0" y="502.6"/>
<use href="#k" x="446.5" y="516.3"/>
<use href="#k" x="477.8" y="491.0"/>
<use href="#k" x="445.6" y="519.3"/>
<use href="#k" x="568.8" y="439.4"/>
<use href="#k" x="458.7" y="497.2"/>
<use href="#k" x="465.9" y="494.9"/>
<use href="#k" x="454.7" y="502.8"/>
<use href="#k" x="330.3" y="572.6"/>
<use href="#k" x="556.3" y="448.4"/>
<use href="#k" x="353.6" y="574.9"/>
<use href="#k" x="577.4" y="437.1"/>
<use href="#k" x="520.5" y="467.2"/>
<use href="#k" x="513.0" y="471.0"/>
<use href="#k" x="349.0" y="566.9"/>
<use href="#k" x="431.7" y="515.7"/>
<use href="#k" x="511.0" y="480.0"/>
<use href="#k" x="678.4" y="379.7"/>
<use href="#k" x="510.1" y="474.7"/>
<use href="#k" x="611.0" y="412.5"/>
<use href="#k" x="590.5" y="431.9"/>
<use href="#k" x="505.6" y="479.3"/>
<use href="#k" x="471.9" y="491.6"/>
<use href="#k" x="346.9" y="568.5"/>
<use href="#k" x="476.1" y="493.6"/>
<use href="#k" x="417.8" y="526.1"/>
<use href="#k" x="358.5" y="564.4"/>
<use href="#k" x="432.6" y="518.2"/>
<use href="#k" x="497.0" y="489.2"/>
<use href="#k" x="409.0" y="531.4"/>
<use href="#k" x="527.9" y="467.5"/>
<use href="#k" x="401.8" y="541.3"/>
<use href="#k" x="561.9" y="435.4"/>
<use href="#k" x="630.8" y="414.1"/>
<use href="#k" x="542.6" y="456.0"/>
<use href="#k" x="443.9" y="508.6"/>
<use href="#k" x="302.7" y="595.3"/>
<use href="#k" x="307.5" y="593.6"/>
<use href="#k" x="364.0" y="556.7"/>
<use href="#k" x="566.0" y="446.8"/>
<use href="#k" x="365.6" y="557.8"/>
<use href="#k" x="438.9" y="504.1"/>
<use href="#k" x="358.0" y="562.8"/>
<use href="#k" x="282.2" y="606.0"/>
<use href="#k" x="401.5" y="546.6"/>
<use href="#k" x="374.7" y="546.5"/>
<use href="#k" x="434.5" y="516.8"/>
<use href="#k" x="330.5" y="570.9"/>
<use href="#k" x="361.6" y="552.4"/>
<use href="#k" x="547.4" y="457.0"/>
<use href="#k" x="413.8" y="517.9"/>
<use href="#k" x="537.4" y="459.4"/>
<use href="#k" x="476.1" y="498.2"/>
<use href="#k" x="399.3" y="534.5"/>
<use href="#k" x="622.8" y="404.0"/>
<use href="#k" x="386.2" y="536.0"/>
<use href="#k" x="487.7" y="485.4"/>
<use href="#k" x="322.2" y="587.1"/>
<use href="#k" x="429.0" y="510.1"/>
<use href="#k" x="507.7" y="482.0"/>
<use href="#k" x="529.6" y="459.5"/>
<use href="#k" x="586.5" y="430.9"/>
<use href="#k" x="483.8" y="490.4"/>
<use href="#k" x="341.5" y="577.2"/>
<use href="#k" x="330.5" y="571.2"/>
<use href="#k" x="451.7" y="512.3"/>
<use href="#k" x="501.8" y="477.0"/>
<use href="#k" x="418.6" y="525.8"/>
<use href="#k" x="473.1" y="492.1"/>
<use href="#k" x="519.3" y="463.4"/>
<use href="#k" x="617.6" y="407.7"/>
<use href="#k" x="479.8" y="487.0"/>
<use href="#k" x="390.7" y="537.2"/>
<use href="#k" x="351.5" y="570.7"/>
<use href="#k" x="255.1" y="619.9"/>
<use href="#k" x="682.9" y="374.1"/>
<use href="#k" x="417.0" y="528.3"/>
<use href="#k" x="261.9" y="608.5"/>
<use href="#k" x="483.6" y="492.4"/>
<use href="#k" x="488.3" y="488.8"/>
<use href="#k" x="393.1" y="542.1"/>
<use href="#k" x="652.5" y="383.0"/>
<use href="#k" x="567.8" y="434.1"/>
<use href="#k" x="308.4" y="594.0"/>
<use href="#k" x="347.1" y="573.2"/>
<use href="#k" x="604.2" y="422.2"/>
<use href="#k" x="395.3" y="539.8"/>
<use href="#k" x="522.4" y="472.3"/>
<use href="#k" x="763.4" y="320.8"/>
<use href="#k" x="443.8" y="507.7"/>
<use href="#k" x="345.0" y="580.9"/>
<use href="#k" x="453.8" y="514.3"/>
<use href="#k" x="453.6" y="502.1"/>
<use href="#k" x="548.2" y="448.8"/>
<use href="#k" x="649.7" y="392.6"/>
<use href="#k" x="321.4" y="583.1"/>
<use href="#k" x="646.9" y="387.0"/>
<use href="#k" x="567.0" y="441.8"/>
<use href="#k" x="590.3" y="427.4"/>
<use href="#k" x="438.6" y="510.4"/>
<use href="#k" x="406.6" y="533.2"/>
<use href="#k" x="498.5" y="485.7"/>
<use href="#k" x="464.1" y="510.0"/>
<use href="#k" x="488.6" y="480.6"/>
<use href="#k" x="525.9" y="459.0"/>
<use href="#k" x="558.4" y="436.5"/>
<use href="#k" x="273.3" y="611.6"/>
<use href="#k" x="489.6" y="481.1"/>
<use href="#k" x="554.5" y="443.9"/>
<use href="#k" x="799.3" y="312.2"/>
<use href="#k" x="639.5" y="398.5"/>
<use href="#k" x="487.3" y="487.1"/>
<use href="#k" x="504.6" y="467.0"/>
<use href="#k" x="628.9" y="391.4"/>
<use href="#k" x="323.3" y="576.5"/>
<use href="#k" x="391.8" y="547.0"/>
<use href="#k" x="396.8" y="537.3"/>
<use href="#k" x="335.5" y="567.5"/>
<use href="#k" x="548.1" y="451.5"/>
<use href="#k" x="380.9" y="553.6"/>
<use href="#k" x="511.5" y="465.6"/>
<use href="#k" x="384.1" y="551.8"/>
<use href="#k" x="618.9" y="408.1"/>
<use href="#k" x="572.8" y="444.6"/>
<use href="#k" x="587.8" y="428.4"/>
<use href="#k" x="547.4" y="456.0"/>
<use href="#k" x="406.8" y="534.9"/>
<use href="#k" x="432.8" y="511.4"/>
<use href="#k" x="465.8" y="497.6"/>
<use href="#k" x="346.7" y="572.7"/>
<use href="#k" x="597.3" y="427.0"/>
<use href="#k" x="405.7" y="528.6"/>
<use href="#k" x="564.0" y="436.4"/>
<use href="#k" x="603.7" y="416.0"/>
<use href="#k" x="504.1" y="474.6"/>
<use href="#k" x="475.6" y="499.6"/>
<use href="#k" x="528.8" y="456.1"/>
<use href="#k" x="644.0" y="401.9"/>
<use href="#k" x="504.9" y="469.8"/>
<use href="#k" x="380.3" y="545.0"/>
<use href="#k" x="366.8" y="561.4"/>
<use href="#k" x="451.9" y="505.4"/>
<use href="#k" x="468.3" y="498.7"/>
<use href="#k" x="325.5" y="584.3"/>
<use href="#k" x="457.8" y="499.7"/>
<use href="#k" x="448.5" y="498.4"/>
<use href="#k" x="597.1" y="423.5"/>
<use href="#k" x="530.8" y="457.0"/>
<use href="#k" x="522.0" y="467.6"/>
<use href="#k" x="289.8" y="601.4"/>
<use href="#k" x="689.0" y="370.9"/>
<use href="#k" x="511.4" y="476.6"/>
<use href="#k" x="602.4" y="421.6"/>
<use href="#k" x="289.1" y="605.2"/>
<use href="#k" x="567.2" y="444.0"/>
<use href="#k" x="322.1" y="584.1"/>
<use href="#k" x="404.2" y="536.8"/>
<use href="#k" x="403.3" y="542.2"/>
<use href="#k" x="495.2" y="476.7"/>
<use href="#k" x="340.5" y="570.1"/>
<use href="#k" x="476.4" y="486.7"/>
<use href="#k" x="416.7" y="532.5"/>
<use href="#k" x="470.5" y="489.2"/>
<use href="#k" x="416.6" y="524.1"/>
<use href="#k" x="425.6" y="529.0"/>
<use href="#k" x="309.0" y="595.0"/>
<use href="#k" x="448.2" y="517.5"/>
<use href="#k" x="467.8" y="495.6"/>
<use href="#k" x="403.7" y="538.7"/>
<use href="#k" x="439.9" y="510.2"/>
<use href="#k" x="495.9" y="477.6"/>
<use href="#k" x="688.9" y="369.5"/>
<use href="#k" x="676.5" y="377.6"/>
<use href="#k" x="546.6" y="450.5"/>
<use href="#k" x="489.9" y="489.9"/>
<use href="#k" x="398.5" y="539.7"/>
<use href="#k" x="649.1" y="386.8"/>
<use href="#k" x="421.7" y="528.8"/>
<use href="#k" x="521.5" y="470.0"/>
<use href="#k" x="455.6" y="510.5"/>
<use href="#k" x="458.4" y="501.9"/>
<use href="#k" x="274.7" y="607.6"/>
<use href="#k" x="478.9" y="500.8"/>
<use href="#k" x="449.0" y="521.4"/>
<use href="#k" x="360.1" y="561.8"/>
<use href="#k" x="592.1" y="422.4"/>
<use href="#k" x="415.1" y="531.6"/>
<use href="#k" x="547.0" y="455.1"/>
<use href="#k" x="698.3" y="367.1"/>
<use href="#k" x="646.2" y="387.9"/>
<use href="#k" x="363.3" y="560.5"/>
<use href="#k" x="455.3" y="508.7"/>
<use href="#k" x="446.7" y="515.5"/>
<use href="#k" x="395.3" y="541.0"/>
<use href="#k" x="336.6" y="574.6"/>
<use href="#k" x="565.9" y="447.4"/>
<use href="#k" x="630.0" y="398.4"/>
<use href="#k" x="386.3" y="545.4"/>
<use href="#k" x="452.2" y="503.4"/>
<use href="#k" x="523.7" y="461.2"/>
<use href="#k" x="539.1" y="466.7"/>
<use href="#k" x="492.8" y="488.6"/>
<use href="#k" x="432.9" y="514.0"/>
<use href="#k" x="269.0" y="620.7"/>
<use href="#k" x="710.6" y="346.8"/>
<use href="#k" x="365.5" y="556.9"/>
<use href="#k" x="370.4" y="553.0"/>
<use href="#k" x="557.9" y="444.4"/>
<use href="#k" x="563.6" y="432.2"/>
<use href="#k" x="433.8" y="527.4"/>
<use href="#k" x="397.6" y="531.1"/>
<use href="#k" x="406.6" y="534.2"/>
<use href="#k" x="501.3" y="483.2"/>
<use href="#k" x="414.4" y="529.1"/>
<use href="#k" x="447.6" y="508.8"/>
<use href="#k" x="320.6" y="581.6"/>
<use href="#k" x="528.9" y="466.4"/>
<use href="#k" x="512.4" y="466.0"/>
<use href="#k" x="522.5" y="471.7"/>
<use href="#k" x="616.1" y="416.3"/>
<use href="#k" x="474.6" y="493.5"/>
<use href="#k" x="540.1" y="461.8"/>
<use href="#k" x="367.9" y="558.1"/>
<use href="#k" x="576.9" y="425.6"/>
<use href="#k" x="317.3" y="577.3"/>
<use href="#k" x="607.6" y="420.9"/>
<use href="#k" x="436.3" y="530.8"/>
<use href="#k" x="689.5" y="375.0"/>
<use href="#k" x="504.1" y="475.8"/>
<use href="#k" x="572.3" y="432.2"/>
<use href="#k" x="574.4" y="431.8"/>
<use href="#k" x="569.3" y="438.2"/>
<use href="#k" x="527.3" y="471.7"/>
<use href="#k" x="557.3" y="445.0"/>
<use href="#k" x="435.0" y="513.8"/>
<use href="#k" x="359.9" y="567.0"/>
<use href="#k" x="486.7" y="479.8"/>
<use href="#k" x="621.9" y="405.0"/>
<use href="#k" x="624.9" y="409.2"/>
<use href="#k" x="553.4" y="449.0"/>
<use href="#k" x="354.9" y="563.8"/>
<use href="#k" x="423.9" y="519.3"/>
<use href="#k" x="523.6" y="457.9"/>
<use href="#k" x="337.5" y="571.2"/>
<use href="#k" x="328.2" y="580.3"/>
<use href="#k" x="535.3" y="458.7"/>
<use href="#k" x="438.4" y="519.3"/>
<use href="#k" x="532.8" y="469.2"/>
<use href="#k" x="406.2" y="535.8"/>
<use href="#k" x="429.7" y="518.1"/>
<use href="#k" x="446.4" y="514.5"/>
<use href="#k" x="410.3" y="526.7"/>
<use href="#k" x="649.3" y="394.2"/>
<use href="#k" x="508.4" y="478.9"/>
<use href="#k" x="593.6" y="430.3"/>
<use href="#k" x="388.0" y="544.0"/>
<use href="#k" x="586.0" y="429.3"/>
<use href="#k" x="608.1" y="425.4"/>
<use href="#k" x="341.7" y="572.2"/>
<use href="#k" x="367.4" y="554.0"/>
<use href="#k" x="438.6" y="516.2"/>
<use href="#k" x="513.1" y="463.9"/>
<use href="#k" x="460.9" y="500.4"/>
<use href="#k" x="366.2" y="559.0"/>
<use href="#k" x="295.1" y="597.9"/>
<use href="#k" x="462.6" y="511.1"/>
<use href="#k" x="455.2" y="503.7"/>
<use href="#k" x="571.6" y="430.7"/>
<use href="#k" x="441.0" y="525.6"/>
<use href="#k" x="614.6" y="415.5"/>
<use href="#k" x="581.4" y="423.9"/>
<use href="#k" x="583.3" y="427.1"/>
<use href="#k" x="500.4" y="478.1"/>
<use href="#k" x="504.4" y="473.0"/>
<use href="#k" x="255.9" y="609.6"/>
<use href="#k" x="471.7" y="491.0"/>
<use href="#k" x="267.8" y="620.3"/>
<use href="#k" x="473.3" y="489.2"/>
<use href="#k" x="320.1" y="587.9"/>
<use href="#k" x="442.7" y="505.6"/>
<use href="#k" x="445.9" y="501.2"/>
<use href="#k" x="622.4" y="406.2"/>
<use href="#k" x="468.8" y="491.3"/>
<use href="#k" x="322.5" y="581.8"/>
<use href="#k" x="343.5" y="561.9"/>
<use href="#k" x="515.6" y="467.2"/>
<use href="#k" x="298.3" y="598.3"/>
<use href="#k" x="421.2" y="522.7"/>
<use href="#k" x="255.0" y="620.8"/>
<use href="#k" x="317.2" y="591.8"/>
<use href="#k" x="488.1" y="475.8"/>
<use href="#k" x="338.6" y="573.9"/>
<use href="#k" x="541.3" y="452.9"/>
<use href="#k" x="441.2" y="517.0"/>
<use href="#k" x="592.3" y="415.8"/>
<use href="#k" x="397.7" y="543.7"/>
<use href="#k" x="509.1" y="465.1"/>
<use href="#k" x="588.5" y="425.2"/>
<use href="#k" x="460.3" y="499.0"/>
<use href="#k" x="549.4" y="455.5"/>
<use href="#k" x="601.2" y="411.4"/>
<use href="#k" x="411.5" y="534.5"/>
<use href="#k" x="426.4" y="521.5"/>
<use href="#k" x="631.5" y="402.8"/>
<use href="#k" x="294.6" y="607.8"/>
<use href="#k" x="537.9" y="457.1"/>
<use href="#k" x="514.7" y="473.8"/>
<use href="#k" x="458.6" y="507.6"/>
<use href="#k" x="443.9" y="515.8"/>
<use href="#k" x="715.1" y="354.2"/>
<use href="#k" x="638.9" y="401.7"/>
<use href="#k" x="385.2" y="548.7"/>
<use href="#k" x="284.5" y="609.2"/>
<use href="#k" x="525.7" y="472.3"/>
<use href="#k" x="409.8" y="534.5"/>
<use href="#k" x="512.1" y="460.6"/>
<use href="#k" x="418.0" y="536.0"/>
<use href="#k" x="469.9" y="510.5"/>
<use href="#k" x="471.5" y="493.4"/>
<use href="#k" x="437.2" y="512.6"/>
<use href="#k" x="447.7" y="517.5"/>
<use href="#k" x="361.7" y="555.9"/>
<use href="#k" x="394.4" y="547.2"/>
<use href="#k" x="598.1" y="418.7"/>
<use href="#k" x="543.3" y="461.1"/>
<use href="#k" x="468.5" y="495.4"/>
<use href="#k" x="554.8" y="441.7"/>
<use href="#k" x="488.1" y="490.8"/>
<use href="#k" x="666.0" y="389.4"/>
<use href="#k" x="520.1" y="461.4"/>
<use href="#k" x="551.3" y="448.8"/>
<use href="#k" x="686.3" y="372.5"/>
<use href="#k" x="474.8" y="490.2"/>
<use href="#k" x="450.2" y="510.8"/>
<use href="#k" x="337.2" y="573.0"/>
<use href="#k" x="320.9" y="577.4"/>
<use href="#k" x="530.4" y="456.6"/>
<use href="#k" x="412.2" y="532.6"/>
<use href="#k" x="371.6" y="552.5"/>
<use href="#k" x="437.3" y="512.0"/>
<use href="#k" x="363.4" y="565.6"/>
<use href="#k" x="519.6" y="471.6"/>
<use href="#k" x="311.1" y="587.4"/>
<use href="#k" x="555.2" y="451.5"/>
<use href="#k" x="357.7" y="564.8"/>
<use href="#k" x="629.1" y="409.0"/>
<use href="#k" x="442.3" y="509.4"/>
<use href="#k" x="259.9" y="617.2"/>
<use href="#k" x="469.1" y="496.7"/>
<use href="#k" x="436.3" y="520.3"/>
<use href="#k" x="590.9" y="419.3"/>
<use href="#k" x="470.0" y="496.0"/>
<use href="#k" x="468.1" y="494.8"/>
<use href="#k" x="521.5" y="473.2"/>
<use href="#k" x="401.4" y="535.0"/>
<use href="#k" x="590.5" y="419.0"/>
<use href="#k" x="532.7" y="459.3"/>
<use href="#k" x="361.9" y="561.7"/>
<use href="#k" x="428.0" y="523.2"/>
<use href="#k" x="519.0" y="466.3"/>
<use href="#k" x="490.2" y="485.5"/>
<use href="#k" x="529.7" y="449.3"/>
<use href="#k" x="436.7" y="519.8"/>
<use href="#k" x="446.8" y="516.6"/>
<use href="#k" x="401.6" y="534.7"/>
<use href="#k" x="458.4" y="494.3"/>
<use href="#k" x="715.7" y="350.4"/>
<use href="#k" x="461.4" y="487.9"/>
<use href="#k" x="491.1" y="478.4"/>
<use href="#k" x="549.2" y="451.1"/>
<use href="#k" x="629.2" y="401.6"/>
<use href="#k" x="486.3" y="485.4"/>
<use href="#k" x="490.8" y="479.7"/>
<use href="#k" x="435.7" y="522.7"/>
<use href="#k" x="560.6" y="435.2"/>
<use href="#k" x="482.5" y="489.6"/>
<use href="#k" x="322.7" y="586.2"/>
<use href="#k" x="361.9" y="562.4"/>
<use href="#k" x="579.7" y="428.4"/>
<use href="#k" x="535.7" y="463.5"/>
<use href="#k" x="394.9" y="543.9"/>
<use href="#k" x="647.5" y="401.4"/>
<use href="#k" x="372.7" y="541.4"/>
<use href="#k" x="419.8" y="521.0"/>
<use href="#k" x="609.7" y="411.7"/>
<use href="#k" x="651.0" y="383.8"/>
<use href="#k" x="391.0" y="544.0"/>
<use href="#k" x="337.2" y="583.9"/>
<use href="#k" x="369.7" y="558.7"/>
<use href="#k" x="505.7" y="486.8"/>
<use href="#k" x="701.0" y="364.0"/>
<use href="#k" x="512.1" y="475.9"/>
<use href="#k" x="450.7" y="514.3"/>
<use href="#k" x="303.7" y="590.1"/>
<use href="#k" x="298.8" y="597.9"/>
<use href="#k" x="624.1" y="409.9"/>
<use href="#k" x="430.8" y="519.1"/>
<use href="#k" x="622.2" y="407.1"/>
<use href="#k" x="391.7" y="543.6"/>
<use href="#k" x="441.7" y="513.0"/>
<use href="#k" x="423.9" y="519.7"/>
<use href="#k" x="708.5" y="365.3"/>
<use href="#k" x="571.3" y="444.4"/>
<use href="#k" x="342.0" y="571.5"/>
<use href="#k" x="446.2" y="510.2"/>
<use href="#k" x="552.7" y="447.8"/>
<use href="#k" x="639.2" y="398.6"/>
<use href="#k" x="489.1" y="492.0"/>
<use href="#k" x="508.6" y="466.9"/>
<use href="#k" x="531.1" y="456.4"/>
<use href="#k" x="658.9" y="399.6"/>
<use href="#k" x="364.7" y="563.8"/>
<use href="#k" x="429.6" y="510.8"/>
<use href="#k" x="545.6" y="459.2"/>
<use href="#k" x="684.1" y="375.4"/>
<use href="#k" x="379.9" y="556.5"/>
<use href="#k" x="472.8" y="496.7"/>
<use href="#k" x="540.0" y="450.9"/>
<use href="#k" x="548.6" y="450.4"/>
<use href="#k" x="292.7" y="603.5"/>
<use href="#k" x="282.2" y="602.8"/>
<use href="#k" x="532.5" y="454.5"/>
<use href="#k" x="565.8" y="432.7"/>
<use href="#k" x="486.0" y="492.8"/>
<use href="#k" x="415.7" y="525.9"/>
<use href="#k" x="441.9" y="507.0"/>
<use href="#k" x="405.5" y="532.5"/>
<use href="#k" x="357.5" y="566.4"/>
<use href="#k" x="551.4" y="448.5"/>
<use href="#k" x="543.1" y="462.8"/>
<use href="#k" x="389.4" y="556.0"/>
<use href="#k" x="371.6" y="554.4"/>
<use href="#k" x="566.9" y="433.8"/>
<use href="#k" x="472.9" y="493.0"/>
<use href="#k" x="493.4" y="494.5"/>
<use href="#k" x="364.7" y="554.8"/>
<use href="#k" x="414.0" y="524.8"/>
<use href="#k" x="387.8" y="539.5"/>
<use href="#k" x="598.2" y="422.3"/>
<use href="#k" x="579.4" y="438.0"/>
<use href="#k" x="309.2" y="592.6"/>
<use href="#k" x="568.6" y="435.6"/>
<use href="#k" x="461.7" y="501.4"/>
<use href="#k" x="310.2" y="587.6"/>
<use href="#k" x="547.5" y="453.0"/>
<use href="#k" x="539.6" y="448.8"/>
<use href="#k" x="407.0" y="539.2"/>
<use href="#k" x="296.4" y="597.6"/>
<use href="#k" x="319.8" y="585.6"/>
<use href="#k" x="593.6" y="434.0"/>
<use href="#k" x="346.9" y="569.3"/>
<use href="#k" x="515.8" y="465.8"/>
<use href="#k" x="727.8" y="341.6"/>
<use href="#k" x="342.9" y="568.3"/>
<use href="#k" x="573.5" y="426.5"/>
<use href="#k" x="574.1" y="432.0"/>
<use href="#k" x="555.1" y="442.0"/>
<use href="#k" x="343.8" y="573.5"/>
<use href="#k" x="447.6" y="509.5"/>
<use href="#k" x="499.2" y="492.1"/>
<use href="#k" x="705.3" y="363.7"/>
<use href="#k" x="585.5" y="426.5"/>
<use href="#k" x="659.3" y="379.2"/>
<use href="#k" x="321.8" y="589.8"/>
<use href="#k" x="500.6" y="485.2"/>
<use href="#k" x="515.6" y="475.0"/>
<use href="#k" x="632.0" y="401.9"/>
<use href="#k" x="446.3" y="513.2"/>
<use href="#k" x="633.2" y="390.8"/>
<use href="#k" x="506.6" y="475.3"/>
<use href="#k" x="495.7" y="476.6"/>
<use href="#k" x="514.7" y="477.7"/>
<use href="#k" x="378.4" y="562.2"/>
<use href="#k" x="533.5" y="464.6"/>
<use href="#k" x="561.7" y="452.1"/>
<use href="#k" x="337.3" y="575.4"/>
<use href="#k" x="593.9" y="419.9"/>
<use href="#k" x="453.2" y="496.5"/>
<use href="#k" x="340.6" y="568.2"/>
<use href="#k" x="324.2" y="580.2"/>
<use href="#k" x="459.9" y="492.5"/>
<use href="#k" x="351.0" y="567.5"/>
<use href="#k" x="461.7" y="513.7"/>
<use href="#k" x="479.4" y="492.4"/>
<use href="#k" x="546.1" y="453.2"/>
<use href="#k" x="501.9" y="489.3"/>
<use href="#k" x="456.2" y="503.0"/>
<use href="#k" x="519.9" y="466.6"/>
<use href="#k" x="543.0" y="455.7"/>
<use href="#k" x="330.2" y="577.4"/>
<use href="#k" x="306.2" y="589.9"/>
<use href="#k" x="575.6" y="425.0"/>
<use href="#k" x="342.0" y="574.5"/>
<use href="#k" x="403.0" y="537.2"/>
<use href="#k" x="661.0" y="391.7"/>
<use href="#k" x="403.9" y="537.1"/>
<use href="#k" x="494.5" y="482.9"/>
<use href="#k" x="334.5" y="579.5"/>
<use href="#k" x="638.2" y="394.3"/>
<use href="#k" x="344.6" y="574.8"/>
<use href="#k" x="537.7" y="457.6"/>
<use href="#k" x="327.5" y="583.2"/>
<use href="#k" x="357.5" y="553.1"/>
<use href="#k" x="396.7" y="544.2"/>
<use href="#k" x="529.1" y="466.2"/>
<use href="#k" x="548.7" y="461.8"/>
<use href="#k" x="324.7" y="576.1"/>
<use href="#k" x="590.2" y="429.9"/>
<use href="#k" x="423.6" y="521.4"/>
<use href="#k" x="437.7" y="515.7"/>
<use href="#k" x="376.0" y="546.9"/>
<use href="#k" x="449.6" y="507.8"/>
<use href="#k" x="365.3" y="557.4"/>
<use href="#k" x="291.8" y="599.9"/>
<use href="#k" x="479.4" y="495.3"/>
<use href="#k" x="584.0" y="429.4"/>
<use href="#k" x="402.5" y="540.5"/>
<use href="#k" x="574.7" y="423.2"/>
<use href="#k" x="416.4" y="526.3"/>
<use href="#k" x="404.2" y="531.2"/>
<use href="#k" x="661.6" y="389.1"/>
<use href="#k" x="555.0" y="443.3"/>
<use href="#k" x="610.7" y="414.6"/>
<use href="#k" x="404.9" y="526.0"/>
<use href="#k" x="561.2" y="436.6"/>
<use href="#k" x="279.2" y="611.8"/>
<use href="#k" x="357.6" y="562.6"/>
<use href="#k" x="569.2" y="425.3"/>
<use href="#k" x="426.7" y="520.9"/>
<use href="#k" x="668.6" y="382.1"/>
<use href="#k" x="554.7" y="453.3"/>
<use href="#k" x="508.5" y="476.7"/>
<use href="#k" x="358.7" y="561.1"/>
<use href="#k" x="435.9" y="514.6"/>
<use href="#k" x="598.9" y="427.2"/>
<use href="#k" x="477.9" y="493.5"/>
<use href="#k" x="421.3" y="527.4"/>
<use href="#k" x="310.8" y="590.6"/>
<use href="#k" x="541.5" y="450.8"/>
<use href="#k" x="340.0" y="568.4"/>
<use href="#k" x="642.4" y="383.3"/>
<use href="#k" x="395.6" y="537.8"/>
<use href="#k" x="573.6" y="439.2"/>
<use href="#k" x="384.3" y="548.4"/>
<use href="#k" x="270.3" y="609.6"/>
<use href="#k" x="340.0" y="575.7"/>
<use href="#k" x="418.0" y="537.8"/>
<use href="#k" x="410.5" y="531.9"/>
<use href="#k" x="476.8" y="506.4"/>
<use href="#k" x="469.9" y="486.4"/>
<use href="#k" x="524.6" y="469.4"/>
<use href="#k" x="415.3" y="531.2"/>
<use href="#k" x="571.1" y="449.3"/>
<use href="#k" x="352.5" y="565.9"/>
<use href="#k" x="319.8" y="589.3"/>
<use href="#k" x="435.8" y="512.1"/>
<use href="#k" x="551.1" y="452.8"/>
<use href="#k" x="416.9" y="531.0"/>
<use href="#k" x="775.8" y="325.5"/>
<use href="#k" x="569.3" y="441.9"/>
<use href="#k" x="764.3" y="328.5"/>
<use href="#k" x="787.6" y="312.0"/>
<use href="#k" x="398.7" y="542.6"/>
<use href="#k" x="624.8" y="413.7"/>
<use href="#k" x="639.5" y="394.8"/>
<use href="#k" x="258.2" y="623.8"/>
<use href="#k" x="274.5" y="606.6"/>
<use href="#k" x="435.6" y="517.1"/>
<use href="#k" x="692.5" y="365.5"/>
<use href="#k" x="588.2" y="420.7"/>
<use href="#k" x="750.7" y="329.1"/>
<use href="#k" x="425.0" y="528.2"/>
<use href="#k" x="661.9" y="392.5"/>
<use href="#k" x="402.3" y="529.4"/>
<use href="#k" x="343.4" y="576.5"/>
<use href="#k" x="305.9" y="593.7"/>
<use href="#k" x="367.7" y="557.1"/>
<use href="#k" x="263.5" y="610.8"/>
<use href="#k" x="373.2" y="556.2"/>
<use href="#k" x="322.0" y="580.7"/>
<use href="#k" x="564.4" y="441.7"/>
<use href="#k" x="486.7" y="486.2"/>
<use href="#k" x="397.1" y="548.5"/>
<use href="#k" x="558.4" y="456.5"/>
<use href="#k" x="352.9" y="568.4"/>
<use href="#k" x="613.9" y="417.6"/>
<use href="#k" x="632.5" y="402.8"/>
<use href="#k" x="290.8" y="607.4"/>
<use href="#k" x="640.3" y="394.5"/>
<use href="#k" x="274.8" y="606.3"/>
<use href="#k" x="392.1" y="547.1"/>
<use href="#k" x="665.6" y="380.7"/>
<use href="#k" x="726.6" y="348.1"/>
<use href="#k" x="605.7" y="418.2"/>
<use href="#k" x="618.2" y="416.5"/>
<use href="#k" x="602.7" y="412.1"/>
<use href="#k" x="285.5" y="607.4"/>
<use href="#k" x="377.5" y="557.3"/>
<use href="#k" x="647.1" y="399.5"/>
<use href="#k" x="638.9" y="395.7"/>
<use href="#k" x="529.5" y="458.2"/>
<use href="#k" x="485.6" y="494.3"/>
<use href="#k" x="325.4" y="588.4"/>
<use href="#k" x="406.2" y="534.3"/>
<use href="#k" x="305.2" y="584.4"/>
<use href="#k" x="672.8" y="380.6"/>
<use href="#k" x="306.2" y="602.8"/>
<use href="#k" x="794.9" y="309.9"/>
<use href="#k" x="706.8" y="364.1"/>
<use href="#k" x="435.8" y="519.3"/>
<use href="#k" x="764.0" y="330.7"/>
<use href="#k" x="554.7" y="439.9"/>
<use href="#k" x="312.0" y="590.0"/>
<use href="#k" x="562.0" y="443.0"/>
<use href="#k" x="354.1" y="565.1"/>
<use href="#k" x="760.5" y="327.1"/>
<use href="#k" x="587.0" y="429.0"/>
<use href="#k" x="468.1" y="511.1"/>
<use href="#k" x="441.9" y="517.5"/>
<use href="#k" x="506.9" y="468.5"/>
<use href="#k" x="450.0" y="516.0"/>
<use href="#k" x="435.7" y="504.9"/>
<use href="#k" x="745.6" y="341.7"/>
<use href="#k" x="281.5" y="612.3"/>
<use href="#k" x="331.1" y="576.1"/>
<use href="#k" x="431.8" y="514.5"/>
<use href="#k" x="680.1" y="365.2"/>
<use href="#k" x="439.8" y="506.5"/>
<use href="#k" x="575.8" y="436.2"/>
<use href="#k" x="545.3" y="455.9"/>
<use href="#k" x="325.0" y="583.1"/>
<use href="#k" x="374.7" y="551.3"/>
<use href="#k" x="514.4" y="464.0"/>
<use href="#k" x="556.6" y="448.0"/>
<use href="#k" x="589.9" y="430.2"/>
<use href="#k" x="784.8" y="317.7"/>
<use href="#k" x="363.3" y="565.2"/>
<use href="#k" x="285.2" y="612.5"/>
<use href="#k" x="694.8" y="366.4"/>
<use href="#k" x="610.2" y="420.5"/>
<use href="#k" x="792.1" y="313.3"/>
<use href="#k" x="514.0" y="467.5"/>
<use href="#k" x="642.8" y="383.1"/>
<use href="#k" x="351.4" y="573.4"/>
<use href="#k" x="383.3" y="544.2"/>
<use href="#k" x="274.9" y="608.7"/>
<use href="#k" x="388.5" y="549.4"/>
<use href="#k" x="460.4" y="499.1"/>
<use href="#k" x="739.6" y="342.6"/>
<use href="#k" x="603.4" y="427.1"/>
<use href="#k" x="355.4" y="562.8"/>
<use href="#k" x="289.0" y="601.2"/>
<use href="#k" x="728.4" y="353.5"/>
<use href="#k" x="699.7" y="371.8"/>
<use href="#k" x="533.8" y="454.8"/>
<use href="#k" x="448.6" y="510.0"/>
<use href="#k" x="678.9" y="377.1"/>
<use href="#k" x="587.8" y="428.1"/>
<use href="#k" x="264.1" y="619.1"/>
<use href="#k" x="503.9" y="477.5"/>
<use href="#k" x="289.5" y="611.2"/>
<use href="#k" x="519.2" y="459.7"/>
<use href="#k" x="361.6" y="562.5"/>
<use href="#k" x="574.8" y="435.9"/>
<use href="#k" x="375.1" y="557.6"/>
<use href="#k" x="703.2" y="361.8"/>
<use href="#k" x="515.8" y="469.9"/>
<use href="#k" x="717.0" y="361.5"/>
<use href="#k" x="618.9" y="417.5"/>
<use href="#k" x="661.6" y="386.3"/>
<use href="#k" x="477.3" y="491.3"/>
<use href="#k" x="709.4" y="356.7"/>
<use href="#k" x="590.4" y="417.7"/>
<use href="#k" x="460.6" y="504.0"/>
<use href="#k" x="719.4" y="351.4"/>
<use href="#k" x="706.8" y="354.4"/>
<use href="#k" x="644.4" y="397.0"/>
<use href="#k" x="262.9" y="621.8"/>
<use href="#k" x="409.5" y="539.8"/>
<use href="#k" x="475.5" y="494.8"/>
<use href="#k" x="282.9" y="599.4"/>
<use href="#k" x="469.7" y="498.1"/>
<use href="#k" x="466.6" y="504.9"/>
<use href="#k" x="451.9" y="508.8"/>
<use href="#k" x="597.8" y="416.3"/>
<use href="#k" x="365.2" y="557.0"/>
<use href="#k" x="582.2" y="437.6"/>
<use href="#k" x="485.7" y="488.8"/>
<use href="#k" x="381.9" y="544.7"/>
<use href="#k" x="418.1" y="518.7"/>
<use href="#k" x="658.7" y="389.7"/>
<use href="#k" x="371.4" y="564.5"/>
<use href="#k" x="602.9" y="417.1"/>
<use href="#k" x="534.8" y="464.7"/>
<use href="#k" x="586.2" y="423.1"/>
<use href="#k" x="275.9" y="601.7"/>
<use href="#k" x="482.6" y="487.9"/>
<use href="#k" x="768.0" y="323.1"/>
<use href="#k" x="690.7" y="373.4"/>
<use href="#k" x="490.1" y="487.8"/>
<use href="#k" x="302.2" y="601.1"/>
<use href="#k" x="310.6" y="586.3"/>
<use href="#k" x="317.1" y="582.8"/>
<use href="#k" x="478.0" y="503.5"/>
<use href="#k" x="717.8" y="355.2"/>
<use href="#k" x="297.0" y="596.0"/>
<use href="#k" x="608.8" y="419.9"/>
<use href="#k" x="532.8" y="449.3"/>
<use href="#k" x="566.4" y="436.6"/>
<use href="#k" x="565.6" y="440.5"/>
<use href="#k" x="658.9" y="384.0"/>
<use href="#k" x="760.8" y="323.6"/>
<use href="#k" x="425.7" y="516.3"/>
<use href="#k" x="425.2" y="522.0"/>
<use href="#k" x="538.5" y="455.8"/>
<use href="#k" x="308.4" y="582.4"/>
<use href="#k" x="262.3" y="612.1"/>
<use href="#k" x="436.8" y="521.0"/>
<use href="#k" x="438.6" y="516.0"/>
<use href="#k" x="254.8" y="625.9"/>
<use href="#k" x="517.7" y="475.2"/>
<use href="#k" x="628.6" y="399.5"/>
<use href="#k" x="603.0" y="426.9"/>
<use href="#k" x="675.3" y="376.7"/>
<use href="#k" x="292.0" y="605.9"/>
<use href="#k" x="426.7" y="513.8"/>
<use href="#k" x="760.2" y="330.1"/>
<use href="#k" x="706.7" y="359.7"/>
<use href="#k" x="708.5" y="364.2"/>
<use href="#k" x="731.6" y="350.5"/>
<use href="#k" x="665.9" y="382.1"/>
<use href="#k" x="707.6" y="351.4"/>
<use href="#k" x="674.8" y="378.7"/>
<use href="#k" x="650.5" y="388.2"/>
<use href="#k" x="703.7" y="366.1"/>
<use href="#k" x="669.6" y="384.3"/>
<use href="#k" x="671.1" y="380.5"/>
<use href="#k" x="655.4" y="394.6"/>
<use href="#k" x="736.0" y="351.8"/>
<use href="#k" x="746.2" y="336.9"/>
<use href="#k" x="635.4" y="400.8"/>
<use href="#k" x="658.6" y="392.0"/>
<use href="#k" x="744.2" y="338.1"/>
<use href="#k" x="669.8" y="389.4"/>
<use href="#k" x="705.4" y="363.5"/>
<use href="#k" x="688.8" y="364.1"/>
<use href="#k" x="652.8" y="389.1"/>
<use href="#k" x="666.8" y="381.5"/>
<use href="#k" x="693.3" y="369.8"/>
<use href="#k" x="685.6" y="378.0"/>
<use href="#k" x="642.7" y="404.7"/>
<use href="#k" x="669.6" y="384.3"/>
<use href="#k" x="653.8" y="398.2"/>
<use href="#k" x="640.3" y="400.3"/>
<use href="#k" x="707.9" y="356.0"/>
<use href="#k" x="703.6" y="365.4"/>
<use href="#k" x="715.6" y="352.5"/>
<use href="#k" x="682.6" y="376.0"/>
<use href="#k" x="646.2" y="391.8"/>
<use href="#k" x="694.7" y="370.9"/>
<use href="#k" x="686.2" y="370.4"/>
<use href="#k" x="688.4" y="376.6"/>
<use href="#k" x="713.1" y="360.1"/>
<use href="#k" x="664.0" y="389.2"/>
<use href="#k" x="672.9" y="380.2"/>
<use href="#k" x="690.8" y="370.4"/>
<use href="#k" x="730.7" y="348.3"/>
<use href="#k" x="685.8" y="365.3"/>
<use href="#k" x="643.4" y="400.2"/>
<use href="#k" x="699.9" y="366.9"/>
<use href="#k" x="671.8" y="376.6"/>
<use href="#k" x="737.8" y="346.5"/>
<use href="#k" x="680.2" y="381.2"/>
<use href="#k" x="680.6" y="371.6"/>
<use href="#k" x="698.4" y="360.8"/>
<use href="#k" x="659.4" y="387.9"/>
<use href="#k" x="659.6" y="382.5"/>
<use href="#k" x="651.5" y="392.3"/>
<use href="#k" x="727.7" y="338.4"/>
<use href="#k" x="713.7" y="368.7"/>
<use href="#k" x="684.2" y="370.6"/>
<use href="#k" x="705.3" y="362.5"/>
<use href="#k" x="646.1" y="395.7"/>
<use href="#k" x="693.3" y="373.3"/>
<use href="#k" x="736.1" y="342.3"/>
<use href="#k" x="654.9" y="388.0"/>
<use href="#k" x="649.0" y="387.3"/>
<use href="#k" x="664.1" y="383.8"/>
<use href="#k" x="702.3" y="357.7"/>
<use href="#k" x="680.9" y="378.2"/>
<use href="#k" x="687.9" y="365.9"/>
<use href="#k" x="720.5" y="356.9"/>
<use href="#k" x="763.7" y="322.9"/>
<use href="#k" x="694.7" y="371.4"/>
<use href="#k" x="717.8" y="350.2"/>
<use href="#k" x="668.0" y="376.6"/>
<use href="#k" x="735.2" y="347.7"/>
<use href="#k" x="723.4" y="355.9"/>
<use href="#k" x="736.0" y="339.3"/>
<use href="#k" x="763.3" y="330.5"/>
<use href="#k" x="665.2" y="387.4"/>
<use href="#k" x="678.1" y="381.4"/>
<use href="#k" x="693.9" y="359.5"/>
<use href="#k" x="639.8" y="393.4"/>
<use href="#k" x="726.3" y="354.0"/>
<use href="#k" x="649.9" y="398.5"/>
<use href="#k" x="714.8" y="349.9"/>
<use href="#k" x="696.0" y="374.3"/>
<use href="#k" x="675.0" y="378.5"/>
<use href="#k" x="757.8" y="319.3"/>
<use href="#k" x="687.2" y="370.3"/>
<use href="#k" x="711.8" y="357.5"/>
<use href="#k" x="647.4" y="393.5"/>
<use href="#k" x="730.0" y="352.1"/>
<use href="#k" x="685.1" y="374.6"/>
<use href="#k" x="725.0" y="351.0"/>
<use href="#k" x="722.8" y="355.5"/>
<use href="#k" x="674.4" y="379.0"/>
<use href="#k" x="703.2" y="360.1"/>
<use href="#k" x="679.6" y="380.8"/>
<use href="#k" x="670.0" y="380.3"/>
<use href="#k" x="664.0" y="386.9"/>
<use href="#k" x="651.3" y="398.4"/>
<use href="#k" x="664.6" y="375.6"/>
<use href="#k" x="656.5" y="389.2"/>
<use href="#k" x="651.1" y="398.8"/>
<use href="#k" x="669.7" y="378.3"/>
<use href="#k" x="642.3" y="396.1"/>
<use href="#k" x="641.3" y="400.6"/>
<use href="#k" x="665.5" y="378.5"/>
<use href="#k" x="751.5" y="340.0"/>
<use href="#k" x="660.4" y="387.3"/>
<use href="#k" x="653.3" y="394.3"/>
<use href="#k" x="704.2" y="359.5"/>
<use href="#k" x="673.7" y="378.3"/>
<use href="#k" x="670.9" y="373.4"/>
<use href="#k" x="721.7" y="352.8"/>
<use href="#k" x="718.2" y="346.5"/>
<use href="#k" x="759.1" y="330.8"/>
<use href="#k" x="744.4" y="330.3"/>
<use href="#k" x="650.1" y="391.8"/>
<use href="#k" x="679.8" y="370.9"/>
<use href="#k" x="688.0" y="372.0"/>
<use href="#k" x="741.1" y="338.6"/>
<use href="#k" x="719.9" y="357.2"/>
<use href="#k" x="682.1" y="365.1"/>
<use href="#k" x="621.1" y="406.6"/>
<use href="#k" x="675.2" y="380.4"/>
<use href="#k" x="666.8" y="378.1"/>
<use href="#k" x="645.6" y="392.9"/>
<use href="#k" x="648.5" y="388.1"/>
<use href="#k" x="622.5" y="402.8"/>
<use href="#k" x="710.8" y="357.3"/>
<use href="#k" x="690.7" y="376.8"/>
<use href="#k" x="665.5" y="385.6"/>
<use href="#k" x="702.8" y="358.6"/>
<use href="#k" x="661.6" y="379.3"/>
<use href="#k" x="674.7" y="374.4"/>
<use href="#k" x="666.7" y="385.9"/>
<use href="#k" x="640.3" y="399.6"/>
<use href="#k" x="657.9" y="393.1"/>
<use href="#k" x="687.1" y="367.8"/>
<use href="#k" x="656.1" y="394.8"/>
<use href="#k" x="688.2" y="361.6"/>
<use href="#k" x="709.2" y="354.1"/>
<use href="#k" x="728.4" y="342.6"/>
<use href="#k" x="634.5" y="400.8"/>
<use href="#k" x="169.4" y="630.5"/>
<use href="#k" x="217.3" y="610.2"/>
<use href="#k" x="204.0" y="634.3"/>
<use href="#k" x="248.9" y="583.4"/>
<use href="#k" x="247.8" y="607.5"/>
<use href="#k" x="283.8" y="563.1"/>
<use href="#k" x="293.3" y="572.3"/>
<use href="#k" x="303.8" y="570.6"/>
<use href="#k" x="325.1" y="541.0"/>
<use href="#k" x="363.4" y="518.8"/>
<use href="#k" x="370.3" y="517.4"/>
<use href="#k" x="360.6" y="523.0"/>
<use href="#k" x="410.5" y="493.3"/>
<use href="#k" x="413.2" y="498.8"/>
<use href="#k" x="430.4" y="490.5"/>
<use href="#k" x="368.9" y="575.6"/>
<use href="#k" x="357.8" y="577.0"/>
<use href="#k" x="480.3" y="512.7"/>
<use href="#k" x="293.3" y="610.8"/>
<use href="#k" x="399.4" y="514.6"/>
<use href="#k" x="357.3" y="539.6"/>
<use href="#k" x="742.9" y="304.7"/>
<use href="#k" x="675.0" y="345.7"/>
<use href="#k" x="617.6" y="374.8"/>
<use href="#k" x="704.9" y="347.1"/>
<use href="#k" x="657.0" y="421.4"/>
<use href="#k" x="705.8" y="453.8"/>
<use href="#k" x="458.3" y="451.8"/>
<use href="#k" x="460.5" y="463.5"/>
<use href="#k" x="522.0" y="444.6"/>
<use href="#k" x="571.1" y="419.7"/>
<use href="#k" x="570.0" y="465.7"/>
<use href="#k" x="591.3" y="452.4"/>
<use href="#k" x="603.2" y="444.1"/>
<use href="#k" x="770.0" y="313.3"/>
<use href="#k" x="644.0" y="380.4"/>
<use href="#k" x="667.5" y="369.3"/>
<use href="#k" x="479.6" y="469.0"/>
<use href="#k" x="813.6" y="282.4"/>
<use href="#k" x="803.9" y="296.9"/>
<use href="#k" x="805.3" y="301.0"/>
<use href="#k" x="824.7" y="303.8"/>
<use href="#k" x="854.3" y="284.9"/>
<use href="#k" x="875.1" y="264.4"/>
<use href="#k" x="897.3" y="266.4"/>
<use href="#k" x="964.1" y="223.4"/>
<use href="#k" x="784.5" y="323.2"/>
<use href="#k" x="736.0" y="331.5"/>
</g>
<g>
<use href="#t" x="369.8" y="549.7"/>
<use href="#t" x="558.1" y="449.9"/>
<use href="#t" x="365.9" y="552.2"/>
<use href="#t" x="507.8" y="474.2"/>
<use href="#t" x="392.0" y="536.2"/>
<use href="#t" x="419.3" y="528.9"/>
<use href="#t" x="620.4" y="404.4"/>
<use href="#t" x="508.3" y="479.1"/>
<use href="#t" x="356.3" y="550.5"/>
<use href="#t" x="412.7" y="522.8"/>
<use href="#t" x="424.4" y="512.5"/>
<use href="#t" x="269.8" y="607.5"/>
<use href="#t" x="447.2" y="520.9"/>
<use href="#t" x="417.1" y="513.8"/>
<use href="#t" x="422.6" y="525.5"/>
<use href="#t" x="426.9" y="509.9"/>
<use href="#t" x="514.8" y="472.0"/>
<use href="#t" x="463.6" y="496.9"/>
<use href="#t" x="425.5" y="519.4"/>
<use href="#t" x="440.1" y="505.7"/>
<use href="#t" x="406.2" y="525.0"/>
<use href="#t" x="481.1" y="487.1"/>
<use href="#t" x="611.9" y="415.7"/>
<use href="#t" x="507.0" y="474.7"/>
<use href="#t" x="276.7" y="602.3"/>
<use href="#t" x="467.6" y="496.4"/>
<use href="#t" x="487.5" y="481.3"/>
<use href="#t" x="484.3" y="499.0"/>
<use href="#t" x="308.9" y="575.1"/>
<use href="#t" x="477.9" y="489.2"/>
<use href="#t" x="357.4" y="547.4"/>
<use href="#t" x="324.7" y="568.9"/>
<use href="#t" x="434.8" y="505.9"/>
<use href="#t" x="563.4" y="435.9"/>
<use href="#t" x="467.6" y="505.2"/>
<use href="#t" x="572.7" y="432.5"/>
<use href="#t" x="500.6" y="476.0"/>
<use href="#t" x="480.9" y="495.3"/>
<use href="#t" x="418.7" y="520.1"/>
<use href="#t" x="593.9" y="433.3"/>
<use href="#t" x="412.0" y="527.3"/>
<use href="#t" x="488.3" y="484.6"/>
<use href="#t" x="392.8" y="523.1"/>
<use href="#t" x="465.0" y="489.7"/>
<use href="#t" x="478.8" y="500.2"/>
<use href="#t" x="589.4" y="444.3"/>
<use href="#t" x="380.6" y="542.1"/>
<use href="#t" x="534.5" y="468.2"/>
<use href="#t" x="566.1" y="445.8"/>
<use href="#t" x="525.6" y="464.7"/>
<use href="#t" x="607.6" y="416.0"/>
<use href="#t" x="415.2" y="511.9"/>
<use href="#t" x="445.7" y="515.0"/>
<use href="#t" x="502.0" y="470.1"/>
<use href="#t" x="593.8" y="435.4"/>
<use href="#t" x="336.8" y="556.2"/>
<use href="#t" x="595.9" y="426.6"/>
<use href="#t" x="356.0" y="559.3"/>
<use href="#t" x="450.6" y="499.4"/>
<use href="#t" x="599.5" y="414.9"/>
<use href="#t" x="275.0" y="608.2"/>
<use href="#t" x="375.1" y="540.0"/>
<use href="#t" x="512.0" y="477.0"/>
<use href="#t" x="445.5" y="508.2"/>
<use href="#t" x="485.4" y="497.8"/>
<use href="#t" x="561.4" y="442.6"/>
<use href="#t" x="552.9" y="454.6"/>
<use href="#t" x="448.4" y="511.3"/>
<use href="#t" x="411.3" y="536.7"/>
<use href="#t" x="287.3" y="579.7"/>
<use href="#t" x="430.7" y="513.9"/>
<use href="#t" x="536.4" y="459.8"/>
<use href="#t" x="319.4" y="584.1"/>
<use href="#t" x="428.8" y="519.2"/>
<use href="#t" x="455.7" y="507.3"/>
<use href="#t" x="453.0" y="497.7"/>
<use href="#t" x="279.5" y="604.9"/>
<use href="#t" x="382.0" y="543.4"/>
<use href="#t" x="372.8" y="545.4"/>
<use href="#t" x="422.6" y="528.4"/>
<use href="#t" x="597.8" y="412.5"/>
<use href="#t" x="426.0" y="522.8"/>
<use href="#t" x="493.2" y="481.1"/>
<use href="#t" x="359.9" y="561.7"/>
<use href="#t" x="581.3" y="429.1"/>
<use href="#t" x="450.4" y="505.6"/>
<use href="#t" x="600.4" y="430.3"/>
<use href="#t" x="464.8" y="499.4"/>
<use href="#t" x="600.5" y="419.8"/>
<use href="#t" x="343.0" y="552.7"/>
<use href="#t" x="547.8" y="449.6"/>
<use href="#t" x="641.4" y="417.4"/>
<use href="#t" x="355.7" y="552.2"/>
<use href="#t" x="457.3" y="500.9"/>
<use href="#t" x="449.3" y="506.0"/>
<use href="#t" x="393.9" y="537.8"/>
<use href="#t" x="451.3" y="511.9"/>
<use href="#t" x="431.6" y="512.1"/>
<use href="#t" x="581.7" y="447.9"/>
<use href="#t" x="461.3" y="492.0"/>
<use href="#t" x="511.7" y="478.9"/>
<use href="#t" x="553.5" y="450.4"/>
<use href="#t" x="506.1" y="472.8"/>
<use href="#t" x="476.4" y="485.7"/>
<use href="#t" x="557.5" y="449.8"/>
<use href="#t" x="398.0" y="531.5"/>
<use href="#t" x="400.0" y="530.1"/>
<use href="#t" x="540.5" y="453.9"/>
<use href="#t" x="485.9" y="471.8"/>
<use href="#t" x="427.4" y="509.8"/>
<use href="#t" x="533.1" y="452.0"/>
<use href="#t" x="433.6" y="516.1"/>
<use href="#t" x="476.0" y="487.9"/>
<use href="#t" x="650.8" y="405.3"/>
<use href="#t" x="494.3" y="481.9"/>
<use href="#t" x="475.9" y="498.0"/>
<use href="#t" x="581.2" y="441.9"/>
<use href="#t" x="488.7" y="484.2"/>
<use href="#t" x="336.6" y="555.4"/>
<use href="#t" x="585.2" y="427.4"/>
<use href="#t" x="449.8" y="510.3"/>
<use href="#t" x="633.9" y="406.5"/>
<use href="#t" x="553.7" y="449.0"/>
<use href="#t" x="350.0" y="556.8"/>
<use href="#t" x="509.5" y="480.4"/>
<use href="#t" x="492.7" y="474.3"/>
<use href="#t" x="351.8" y="565.0"/>
<use href="#t" x="523.2" y="474.1"/>
<use href="#t" x="619.7" y="406.4"/>
<use href="#t" x="532.5" y="460.6"/>
<use href="#t" x="344.0" y="575.6"/>
<use href="#t" x="474.7" y="501.0"/>
<use href="#t" x="508.9" y="460.1"/>
<use href="#t" x="432.9" y="521.2"/>
<use href="#t" x="363.8" y="549.4"/>
<use href="#t" x="483.3" y="484.2"/>
<use href="#t" x="640.0" y="393.7"/>
<use href="#t" x="585.6" y="428.0"/>
<use href="#t" x="505.0" y="460.3"/>
<use href="#t" x="485.0" y="493.8"/>
<use href="#t" x="393.6" y="544.0"/>
<use href="#t" x="403.8" y="534.9"/>
<use href="#t" x="458.9" y="506.1"/>
<use href="#t" x="558.9" y="448.0"/>
<use href="#t" x="317.0" y="587.0"/>
<use href="#t" x="444.6" y="500.2"/>
<use href="#t" x="530.6" y="460.5"/>
<use href="#t" x="434.4" y="518.5"/>
<use href="#t" x="477.3" y="493.4"/>
<use href="#t" x="515.4" y="460.4"/>
<use href="#t" x="480.1" y="496.0"/>
<use href="#t" x="462.0" y="503.6"/>
<use href="#t" x="450.6" y="514.1"/>
<use href="#t" x="540.5" y="461.4"/>
<use href="#t" x="358.9" y="551.4"/>
<use href="#t" x="567.4" y="446.9"/>
<use href="#t" x="426.2" y="527.1"/>
<use href="#t" x="406.2" y="529.9"/>
<use href="#t" x="525.9" y="456.4"/>
<use href="#t" x="391.2" y="533.0"/>
<use href="#t" x="438.7" y="502.4"/>
<use href="#t" x="540.0" y="454.1"/>
<use href="#t" x="480.8" y="486.5"/>
<use href="#t" x="418.9" y="528.0"/>
<use href="#t" x="418.0" y="511.6"/>
<use href="#t" x="442.4" y="506.4"/>
<use href="#t" x="441.3" y="507.6"/>
<use href="#t" x="477.0" y="498.8"/>
<use href="#t" x="387.3" y="532.6"/>
<use href="#t" x="664.9" y="391.1"/>
<use href="#t" x="609.6" y="417.2"/>
<use href="#t" x="530.5" y="463.9"/>
<use href="#t" x="587.8" y="430.6"/>
<use href="#t" x="387.0" y="547.9"/>
<use href="#t" x="416.4" y="514.4"/>
<use href="#t" x="487.9" y="473.8"/>
<use href="#t" x="427.0" y="530.3"/>
<use href="#t" x="379.9" y="556.1"/>
<use href="#t" x="504.1" y="480.7"/>
<use href="#t" x="607.1" y="424.4"/>
<use href="#t" x="488.0" y="482.0"/>
<use href="#t" x="514.6" y="465.1"/>
<use href="#t" x="368.3" y="537.5"/>
<use href="#t" x="319.8" y="584.8"/>
<use href="#t" x="515.0" y="474.4"/>
<use href="#t" x="524.5" y="455.2"/>
<use href="#t" x="555.1" y="447.3"/>
<use href="#t" x="358.8" y="556.6"/>
<use href="#t" x="377.9" y="541.4"/>
<use href="#t" x="558.6" y="455.3"/>
<use href="#t" x="368.5" y="543.4"/>
<use href="#t" x="481.1" y="483.6"/>
<use href="#t" x="505.9" y="474.1"/>
<use href="#t" x="468.2" y="500.4"/>
<use href="#t" x="445.2" y="508.2"/>
<use href="#t" x="657.4" y="399.7"/>
<use href="#t" x="523.3" y="466.4"/>
<use href="#t" x="526.8" y="465.3"/>
<use href="#t" x="526.4" y="453.6"/>
<use href="#t" x="588.9" y="439.5"/>
<use href="#t" x="419.9" y="520.1"/>
<use href="#t" x="549.0" y="451.6"/>
<use href="#t" x="555.4" y="450.6"/>
<use href="#t" x="393.1" y="537.9"/>
<use href="#t" x="363.2" y="560.5"/>
<use href="#t" x="477.8" y="480.5"/>
<use href="#t" x="517.6" y="469.0"/>
<use href="#t" x="548.4" y="456.6"/>
<use href="#t" x="617.6" y="426.8"/>
<use href="#t" x="513.7" y="461.1"/>
<use href="#t" x="428.0" y="509.2"/>
<use href="#t" x="559.7" y="441.3"/>
<use href="#t" x="347.8" y="566.6"/>
<use href="#t" x="454.9" y="502.8"/>
<use href="#t" x="478.1" y="494.5"/>
<use href="#t" x="409.0" y="527.9"/>
<use href="#t" x="372.4" y="538.2"/>
<use href="#t" x="446.0" y="503.0"/>
<use href="#t" x="428.3" y="513.7"/>
<use href="#t" x="389.9" y="551.5"/>
<use href="#t" x="498.4" y="474.5"/>
<use href="#t" x="386.9" y="546.5"/>
<use href="#t" x="272.4" y="605.8"/>
<use href="#t" x="556.5" y="446.7"/>
<use href="#t" x="457.2" y="488.0"/>
<use href="#t" x="488.8" y="483.4"/>
<use href="#t" x="591.1" y="423.7"/>
<use href="#t" x="320.6" y="581.3"/>
<use href="#t" x="351.4" y="559.5"/>
<use href="#t" x="430.1" y="517.4"/>
<use href="#t" x="661.0" y="386.1"/>
<use href="#t" x="433.4" y="509.4"/>
<use href="#t" x="539.8" y="454.8"/>
<use href="#t" x="496.1" y="473.8"/>
<use href="#t" x="462.4" y="511.3"/>
<use href="#t" x="531.0" y="462.8"/>
<use href="#t" x="502.6" y="490.1"/>
<use href="#t" x="448.0" y="508.9"/>
<use href="#t" x="657.0" y="396.0"/>
<use href="#t" x="424.2" y="520.2"/>
<use href="#t" x="428.9" y="519.8"/>
<use href="#t" x="387.9" y="540.0"/>
<use href="#t" x="360.8" y="559.4"/>
<use href="#t" x="325.3" y="582.7"/>
<use href="#t" x="563.9" y="430.3"/>
<use href="#t" x="309.9" y="576.8"/>
<use href="#t" x="549.6" y="448.2"/>
<use href="#t" x="441.7" y="499.4"/>
<use href="#t" x="430.1" y="515.7"/>
<use href="#t" x="628.5" y="404.4"/>
<use href="#t" x="329.5" y="564.5"/>
<use href="#t" x="418.2" y="516.2"/>
<use href="#t" x="420.3" y="514.6"/>
<use href="#t" x="438.5" y="512.5"/>
<use href="#t" x="554.1" y="444.3"/>
<use href="#t" x="452.4" y="502.6"/>
<use href="#t" x="458.5" y="502.6"/>
<use href="#t" x="538.3" y="459.2"/>
<use href="#t" x="475.7" y="482.3"/>
<use href="#t" x="484.0" y="477.7"/>
<use href="#t" x="305.9" y="576.8"/>
<use href="#t" x="544.5" y="458.1"/>
<use href="#t" x="521.1" y="480.7"/>
<use href="#t" x="538.4" y="458.3"/>
<use href="#t" x="325.6" y="583.3"/>
<use href="#t" x="388.2" y="551.6"/>
<use href="#t" x="426.7" y="522.5"/>
<use href="#t" x="541.6" y="448.9"/>
<use href="#t" x="540.7" y="457.6"/>
<use href="#t" x="335.5" y="558.6"/>
<use href="#t" x="532.2" y="463.6"/>
<use href="#t" x="457.6" y="505.7"/>
<use href="#t" x="528.7" y="468.6"/>
<use href="#t" x="618.6" y="416.1"/>
<use href="#t" x="416.2" y="531.2"/>
<use href="#t" x="508.8" y="477.2"/>
<use href="#t" x="586.7" y="438.7"/>
<use href="#t" x="437.1" y="503.8"/>
<use href="#t" x="414.4" y="539.8"/>
<use href="#t" x="631.6" y="410.9"/>
<use href="#t" x="530.8" y="454.7"/>
<use href="#t" x="411.0" y="532.8"/>
<use href="#t" x="477.9" y="487.4"/>
<use href="#t" x="398.0" y="544.9"/>
<use href="#t" x="519.1" y="472.1"/>
<use href="#t" x="503.7" y="487.3"/>
<use href="#t" x="379.2" y="540.7"/>
<use href="#t" x="453.5" y="494.5"/>
<use href="#t" x="525.9" y="462.1"/>
<use href="#t" x="446.0" y="516.2"/>
<use href="#t" x="256.7" y="582.5"/>
<use href="#t" x="231.7" y="616.6"/>
<use href="#t" x="191.6" y="646.3"/>
<use href="#t" x="287.7" y="583.1"/>
<use href="#t" x="338.4" y="538.7"/>
<use href="#t" x="386.9" y="509.1"/>
<use href="#t" x="396.6" y="504.9"/>
<use href="#t" x="377.2" y="511.9"/>
<use href="#t" x="438.2" y="492.5"/>
<use href="#t" x="420.2" y="547.9"/>
<use href="#t" x="468.6" y="521.6"/>
<use href="#t" x="251.0" y="628.0"/>
<use href="#t" x="306.6" y="597.8"/>
<use href="#t" x="327.3" y="552.0"/>
<use href="#t" x="556.1" y="421.9"/>
<use href="#t" x="613.5" y="434.4"/>
<use href="#t" x="530.4" y="484.3"/>
<use href="#t" x="463.9" y="474.6"/>
<use href="#t" x="648.1" y="405.3"/>
<use href="#t" x="619.0" y="403.9"/>
</g>
<g>
<use href="#p" x="674.7" y="381.5"/>
<use href="#p" x="750.6" y="337.2"/>
<use href="#p" x="790.0" y="314.2"/>
<use href="#p" x="841.2" y="284.3"/>
<use href="#p" x="990.3" y="197.2"/>
<use href="#p" x="1064.5" y="154.2"/>
<use href="#p" x="1148.9" y="104.8"/>
<use href="#p" x="1203.3" y="73.1"/>
</g>
<polygon points="169.4,656.5 1203.5,67.3 1203.5,93.9 169.4,683.1" fill="#0000ff" fill-opacity="0.2" stroke="#0000ff" stroke-opacity="0.2" stroke-width="1.6" stroke-linejoin="miter"/>
<polygon points="169.4,637.7 1203.5,74.0 1203.5,118.0 169.4,681.7" fill="#008000" fill-opacity="0.2" stroke="#008000" stroke-opacity="0.2" stroke-width="1.6" stroke-linejoin="miter"/>
<line x1="169.4" y1="669.8" x2="1203.5" y2="80.6" stroke="#0000ff" stroke-width="3.0" stroke-linecap="square"/>
<line x1="169.4" y1="659.7" x2="1203.5" y2="96.0" stroke="#00ff00" stroke-width="3.0" stroke-linecap="square"/>
<line x1="169.4" y1="676.9" x2="1203.5" y2="72.9" stroke="#ff0000" stroke-width="3.0" stroke-linecap="square"/>
</g>
<rect x="117.6" y="37.0" width="1137.9" height="676.6" fill="none" stroke="#000" stroke-width="1.6"/>
<g class="tk">
<line x1="230.7" y1="713.6" x2="230.7" y2="720.6"/>
<line x1="417.1" y1="713.6" x2="417.1" y2="720.6"/>
<line x1="603.6" y1="713.6" x2="603.6" y2="720.6"/>
<line x1="790.0" y1="713.6" x2="790.0" y2="720.6"/>
<line x1="976.4" y1="713.6" x2="976.4" y2="720.6"/>
<line x1="1162.9" y1="713.6" x2="1162.9" y2="720.6"/>
<line x1="117.6" y1="647.7" x2="110.6" y2="647.7"/>
<line x1="117.6" y1="538.8" x2="110.6" y2="538.8"/>
<line x1="117.6" y1="429.9" x2="110.6" y2="429.9"/>
<line x1="117.6" y1="321.0" x2="110.6" y2="321.0"/>
<line x1="117.6" y1="212.1" x2="110.6" y2="212.1"/>
<line x1="117.6" y1="103.2" x2="110.6" y2="103.2"/>
</g>
<text transform="translate(199.0,750.3) scale(1,1.035)" font-size="28.55" text-anchor="start">10<tspan font-size="19.98" dx="0" dy="-10.4">−6</tspan></text>
<text transform="translate(385.4,750.3) scale(1,1.035)" font-size="28.55" text-anchor="start">10<tspan font-size="19.98" dx="0" dy="-10.4">−4</tspan></text>
<text transform="translate(571.9,750.3) scale(1,1.035)" font-size="28.55" text-anchor="start">10<tspan font-size="19.98" dx="0" dy="-10.4">−2</tspan></text>
<text transform="translate(766.7,750.3) scale(1,1.035)" font-size="28.55" text-anchor="start">10<tspan font-size="19.98" dx="0" dy="-10.4">0</tspan></text>
<text transform="translate(953.1,750.3) scale(1,1.035)" font-size="28.55" text-anchor="start">10<tspan font-size="19.98" dx="0" dy="-10.4">2</tspan></text>
<text transform="translate(1139.6,750.3) scale(1,1.035)" font-size="28.55" text-anchor="start">10<tspan font-size="19.98" dx="0" dy="-10.4">4</tspan></text>
<text transform="translate(38.1,658.5) scale(1,1.035)" font-size="28.55" text-anchor="start">10<tspan font-size="19.98" dx="0" dy="-10.4">−1</tspan></text>
<text transform="translate(54.9,549.5) scale(1,1.035)" font-size="28.55" text-anchor="start">10<tspan font-size="19.98" dx="0" dy="-10.4">1</tspan></text>
<text transform="translate(54.9,440.6) scale(1,1.035)" font-size="28.55" text-anchor="start">10<tspan font-size="19.98" dx="0" dy="-10.4">3</tspan></text>
<text transform="translate(54.9,331.8) scale(1,1.035)" font-size="28.55" text-anchor="start">10<tspan font-size="19.98" dx="0" dy="-10.4">5</tspan></text>
<text transform="translate(54.9,222.8) scale(1,1.035)" font-size="28.55" text-anchor="start">10<tspan font-size="19.98" dx="0" dy="-10.4">7</tspan></text>
<text transform="translate(54.9,113.9) scale(1,1.035)" font-size="28.55" text-anchor="start">10<tspan font-size="19.98" dx="0" dy="-10.4">9</tspan></text>
<text x="686.0" y="785.8" font-size="28.6" text-anchor="middle">Semi-Major Axis Cubed (AU^3)</text>
<text transform="translate(23.1,374.7) rotate(-90)" font-size="28.6" text-anchor="middle">Orbital Period Squared (days^2)</text>
<text x="685.0" y="23.8" font-size="30.6" text-anchor="middle">Orbital Period Squared vs. Semi-Major Axis Cubed for Solar System Planets (Log Scale)</text>
<rect x="131.9" y="50.8" width="446.9" height="261.4" rx="4.5" ry="4.5" fill="#fff" fill-opacity="0.8" stroke="#ccc" stroke-opacity="0.8" stroke-width="1.8"/>
<use href="#k" x="171.8" y="77.0"/>
<use href="#t" x="171.8" y="119.0"/>
<use href="#p" x="171.8" y="161.0"/>
<line x1="143.4" y1="200.5" x2="200.2" y2="200.5" stroke="#0000ff" stroke-width="2.9" stroke-linecap="square"/>
<line x1="143.4" y1="242.5" x2="200.2" y2="242.5" stroke="#00ff00" stroke-width="2.9" stroke-linecap="square"/>
<line x1="143.4" y1="284.7" x2="200.2" y2="284.7" stroke="#ff0000" stroke-width="2.9" stroke-linecap="square"/>
<text x="222.9" y="84.3" font-size="28.55">Kepler Data</text>
<text x="222.9" y="126.3" font-size="28.55">TESS Data</text>
<text x="222.9" y="168.3" font-size="28.55">Solar System Planets</text>
<text x="222.9" y="210.1" font-size="28.55">Kepler Data Fit</text>
<text x="222.9" y="252.0" font-size="28.55">TESS Data Fit</text>
<text x="222.9" y="293.9" font-size="28.55">Solar System Planets Fit</text>
</svg>
</body></html>
